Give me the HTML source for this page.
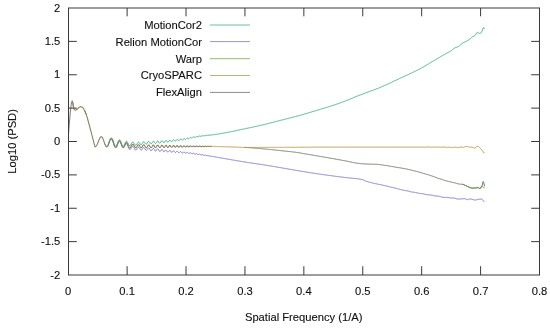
<!DOCTYPE html>
<html><head><meta charset="utf-8"><style>
html,body{margin:0;padding:0;background:#fff;}
svg{display:block;}
text{font-family:"Liberation Sans",Arial,sans-serif;font-size:11.2px;fill:#111;stroke:#111;stroke-width:0.12px;}
</style></head><body>
<svg width="550" height="328" viewBox="0 0 550 328">
<rect width="550" height="328" fill="#fff"/>
<g fill="none" stroke-width="1" stroke-linejoin="round" opacity="0.92">
<path d="M108.00,145.51 L108.25,144.95 L108.50,144.32 L108.75,143.64 L109.00,142.93 L109.25,142.21 L109.50,141.51 L109.75,140.86 L110.00,140.26 L110.25,139.75 L110.50,139.32 L110.75,139.01 L111.00,138.82 L111.25,138.75 L111.50,138.82 L111.75,139.02 L112.00,139.34 L112.25,139.78 L112.50,140.32 L112.75,140.96 L113.00,141.66 L113.25,142.41 L113.50,143.19 L113.75,143.96 L114.00,144.72 L114.25,145.42 L114.50,146.05 L114.75,146.59 L115.00,147.02 L115.25,147.33 L115.50,147.50 L115.75,147.54 L116.00,147.43 L116.25,147.20 L116.50,146.85 L116.75,146.38 L117.00,145.84 L117.25,145.22 L117.50,144.57 L117.75,143.91 L118.00,143.27 L118.25,142.67 L118.50,142.14 L118.75,141.71 L119.00,141.39 L119.25,141.20 L119.50,141.14 L119.75,141.23 L120.00,141.45 L120.25,141.80 L120.50,142.26 L120.75,142.81 L121.00,143.43 L121.25,144.09 L121.50,144.76 L121.75,145.42 L122.00,146.02 L122.25,146.55 L122.50,147.00 L122.75,147.33 L123.00,147.54 L123.25,147.62 L123.50,147.56 L123.75,147.37 L124.00,147.06 L124.25,146.66 L124.50,146.18 L124.75,145.66 L125.00,145.14 L125.25,144.66 L125.50,144.25 L125.75,143.93 L126.00,143.72 L126.25,143.64 L126.50,143.71 L126.75,143.91 L127.00,144.24 L127.25,144.69 L127.50,145.24 L127.75,145.85 L128.00,146.51 L128.25,147.16 L128.50,147.79 L128.75,148.37 L129.00,148.85 L129.25,149.22 L129.50,149.47 L129.75,149.57 L130.00,149.54 L130.25,149.39 L130.50,149.12 L130.75,148.78 L131.00,148.37 L131.25,147.94 L131.50,147.51 L131.75,147.11 L132.00,146.77 L132.25,146.52 L132.50,146.37 L132.75,146.35 L133.00,146.44 L133.25,146.65 L133.50,146.96 L133.75,147.36 L134.00,147.81 L134.25,148.29 L134.50,148.77 L134.75,149.20 L135.00,149.57 L135.25,149.84 L135.50,150.01 L135.75,150.05 L136.00,149.98 L136.25,149.79 L136.50,149.51 L136.75,149.16 L137.00,148.77 L137.25,148.37 L137.50,147.98 L137.75,147.65 L138.00,147.39 L138.25,147.23 L138.50,147.20 L138.75,147.28 L139.00,147.47 L139.25,147.77 L139.50,148.14 L139.75,148.57 L140.00,149.00 L140.25,149.42 L140.50,149.77 L140.75,150.04 L141.00,150.20 L141.25,150.23 L141.50,150.14 L141.75,149.93 L142.00,149.62 L142.25,149.25 L142.50,148.83 L142.75,148.43 L143.00,148.06 L143.25,147.77 L143.50,147.59 L143.75,147.53 L144.00,147.61 L144.25,147.81 L144.50,148.12 L144.75,148.51 L145.00,148.95 L145.25,149.39 L145.50,149.80 L145.75,150.13 L146.00,150.35 L146.25,150.44 L146.50,150.39 L146.75,150.22 L147.00,149.93 L147.25,149.57 L147.50,149.16 L147.75,148.75 L148.00,148.39 L148.25,148.12 L148.50,147.97 L148.75,147.95 L149.00,148.08 L149.25,148.33 L149.50,148.69 L149.75,149.12 L150.00,149.57 L150.25,150.00 L150.50,150.36 L150.75,150.61 L151.00,150.73 L151.25,150.70 L151.50,150.54 L151.75,150.25 L152.00,149.88 L152.25,149.47 L152.50,149.07 L152.75,148.73 L153.00,148.50 L153.25,148.40 L153.50,148.45 L153.75,148.64 L154.00,148.96 L154.25,149.37 L154.50,149.82 L154.75,150.27 L155.00,150.65 L155.25,150.93 L155.50,151.06 L155.75,151.05 L156.00,150.89 L156.25,150.60 L156.50,150.23 L156.75,149.82 L157.00,149.43 L157.25,149.12 L157.50,148.93 L157.75,148.89 L158.00,149.00 L158.25,149.26 L158.50,149.64 L158.75,150.09 L159.00,150.55 L159.25,150.96 L159.50,151.28 L159.75,151.46 L160.00,151.47 L160.25,151.34 L160.50,151.06 L160.75,150.69 L161.00,150.29 L161.25,149.91 L161.50,149.61 L161.75,149.45 L162.00,149.44 L162.25,149.59 L162.50,149.89 L162.75,150.30 L163.00,150.75 L163.25,151.20 L163.50,151.57 L163.75,151.82 L164.00,151.90 L164.25,151.82 L164.50,151.59 L164.75,151.25 L165.00,150.84 L165.25,150.45 L165.50,150.14 L165.75,149.96 L166.00,149.94 L166.25,150.08 L166.50,150.37 L166.75,150.76 L167.00,151.20 L167.25,151.62 L167.50,151.95 L167.75,152.14 L168.00,152.18 L168.25,152.05 L168.50,151.79 L168.75,151.44 L169.00,151.06 L169.25,150.72 L169.50,150.48 L169.75,150.39 L170.00,150.46 L170.25,150.67 L170.50,151.01 L170.75,151.41 L171.00,151.80 L171.25,152.13 L171.50,152.34 L171.75,152.39 L172.00,152.29 L172.25,152.06 L172.50,151.73 L172.75,151.38 L173.00,151.07 L173.25,150.86 L173.50,150.79 L173.75,150.87 L174.00,151.09 L174.25,151.42 L174.50,151.80 L174.75,152.15 L175.00,152.42 L175.25,152.57 L175.50,152.56 L175.75,152.41 L176.00,152.15 L176.25,151.84 L176.50,151.52 L176.75,151.28 L177.00,151.16 L177.25,151.19 L177.50,151.36 L177.75,151.64 L178.00,151.98 L178.25,152.32 L178.50,152.59 L178.75,152.75 L179.00,152.77 L179.25,152.65 L179.50,152.41 L179.75,152.12 L180.00,151.83 L180.25,151.62 L180.50,151.51 L180.75,151.55 L181.00,151.73 L181.25,152.00 L181.50,152.33 L181.75,152.64 L182.00,152.87 L182.25,152.99 L182.50,152.97 L182.75,152.82 L183.00,152.58 L183.25,152.30 L183.50,152.06 L183.75,151.91 L184.00,151.88 L184.25,151.99 L184.50,152.22 L184.75,152.51 L185.00,152.82 L185.25,153.07 L185.50,153.22 L185.75,153.24 L186.00,153.13 L186.25,152.93 L186.50,152.69 L186.75,152.47 L187.00,152.32 L187.25,152.29 L187.50,152.39 L187.75,152.59 L188.00,152.86 L188.25,153.13 L188.50,153.36 L188.75,153.50 L189.00,153.51 L189.25,153.42 L189.50,153.24 L189.75,153.03 L190.00,152.85 L190.25,152.75 L190.50,152.75 L190.75,152.87 L191.00,153.07 L191.25,153.32 L191.50,153.57 L191.75,153.75 L192.00,153.83 L192.25,153.81 L192.50,153.70 L192.75,153.52 L193.00,153.35 L193.25,153.23 L193.50,153.19 L193.75,153.26 L194.00,153.42 L194.25,153.64 L194.50,153.87 L194.75,154.06 L195.00,154.17 L195.25,154.18 L195.50,154.10 L195.75,153.96 L196.00,153.81 L196.25,153.70 L196.50,153.66 L196.75,153.71 L197.00,153.85 L197.25,154.05 L197.50,154.26 L197.75,154.44 L198.00,154.54 L198.25,154.56 L198.50,154.49 L198.75,154.37 L199.00,154.24 L199.25,154.15 L199.50,154.13 L199.75,154.19 L200.00,154.34 L200.25,154.52 L200.50,154.71 L200.75,154.86 L201.00,154.93 L201.25,154.93 L201.50,154.86 L201.75,154.75 L202.00,154.66 L202.25,154.61 L202.50,154.63 L202.75,154.72 L203.00,154.86 L203.25,155.03 L203.50,155.18 L203.75,155.28 L204.00,155.31 L204.25,155.28 L204.50,155.21 L204.75,155.13 L205.00,155.08 L205.25,155.08 L205.50,155.15 L205.75,155.26 L206.00,155.41 L206.25,155.54 L206.50,155.65 L206.75,155.69 L207.00,155.69 L207.25,155.64 L207.50,155.58 L207.75,155.54 L208.00,155.54 L208.25,155.60 L208.50,155.70 L208.75,155.83 L209.00,155.95 L209.25,156.05 L209.50,156.10 L209.75,156.10 L210.00,156.07 L210.25,156.03 L210.50,156.00 L210.75,156.02 L211.00,156.08 L211.25,156.17 L211.50,156.29 L211.75,156.40 L212.00,156.48 L212.25,156.52 L212.50,156.53 L212.75,156.50 L213.00,156.48 L213.25,156.48 L213.50,156.51 L213.75,156.58 L214.00,156.67 L214.25,156.78 L214.50,156.87 L214.75,156.93 L215.00,156.96 L215.25,156.96 L215.50,156.95 L215.75,156.94 L216.00,156.96 L216.25,157.01 L216.50,157.09 L216.75,157.18 L217.00,157.28 L217.25,157.36 L217.50,157.40 L217.75,157.42 L218.00,157.41 L218.25,157.40 L218.50,157.41 L218.75,157.45 L219.00,157.52 L219.25,157.61 L219.50,157.71 L219.75,157.79 L220.00,157.84 L220.25,157.86 L220.50,157.86 L220.75,157.85 L221.00,157.86 L221.25,157.90 L221.50,157.96 L221.75,158.05 L222.00,158.14 L222.25,158.22 L222.50,158.27 L222.75,158.30 L223.00,158.30 L223.25,158.30 L223.50,158.31 L223.75,158.34 L224.00,158.40 L224.25,158.49 L224.50,158.57 L224.75,158.65 L225.00,158.70 L225.25,158.72 L225.50,158.72 L225.75,158.72 L226.00,158.74 L226.25,158.78 L226.50,158.84 L226.75,158.92 L227.00,159.01 L227.25,159.07 L227.50,159.12 L227.75,159.13 L228.00,159.14 L228.25,159.15 L228.50,159.17 L228.75,159.22 L229.00,159.29 L229.25,159.37 L229.50,159.44 L229.75,159.50 L230.00,159.53 L230.25,159.55 L230.50,159.55 L230.75,159.57 L231.00,159.60 L231.25,159.66 L231.50,159.74 L231.75,159.82 L232.00,159.88 L232.25,159.93 L232.50,159.95 L232.75,159.96 L233.00,159.97 L233.25,160.00 L233.50,160.05 L233.75,160.12 L234.00,160.19 L234.25,160.26 L234.50,160.32 L234.75,160.35 L235.00,160.36 L235.25,160.37 L235.50,160.40 L235.75,160.44 L236.00,160.50 L236.25,160.58 L236.50,160.65 L236.75,160.70 L237.00,160.74 L237.25,160.75 L237.50,160.77 L237.75,160.79 L238.00,160.83 L238.25,160.89 L238.50,160.96 L238.75,161.03 L239.00,161.08 L239.25,161.12 L239.50,161.14 L239.75,161.15 L240.00,161.18 L240.25,161.21 L240.50,161.27 L240.75,161.34 L241.00,161.41 L241.25,161.46 L241.50,161.50 L241.75,161.52 L242.00,161.53 L242.25,161.55 L242.50,161.59 L242.75,161.65 L243.00,161.72 L243.25,161.78 L243.50,161.83 L243.75,161.87 L244.00,161.88 L244.25,161.90 L244.50,161.92 L244.75,161.96 L245.00,162.02 L245.25,162.09 L245.50,162.15 L245.75,162.20 L246.00,162.22 L246.25,162.24 L246.50,162.25 L246.75,162.28 L247.00,162.33 L247.25,162.39 L247.50,162.46 L247.75,162.51 L248.00,162.55 L248.25,162.57 L248.50,162.58 L248.75,162.59 L249.00,162.63 L249.25,162.68 L249.50,162.75 L249.75,162.81 L250.00,162.86 L250.25,162.88 L250.50,162.89 L250.75,162.90 L251.00,162.93 L251.25,162.97 L251.50,163.04 L251.75,163.10 L252.00,163.15 L252.25,163.19 L252.50,163.20 L252.75,163.21 L253.00,163.23 L253.25,163.26 L253.50,163.32 L253.75,163.39 L254.00,163.44 L254.25,163.48 L254.50,163.50 L254.75,163.51 L255.00,163.52 L255.25,163.55 L255.50,163.61 L255.75,163.67 L256.00,163.73 L256.25,163.77 L256.50,163.80 L256.75,163.81 L257.00,163.82 L257.25,163.84 L257.50,163.89 L257.75,163.96 L258.00,164.02 L258.25,164.06 L258.50,164.09 L258.75,164.10 L259.00,164.11 L259.25,164.14 L259.50,164.18 L259.75,164.25 L260.00,164.31 L260.25,164.36 L260.50,164.39 L260.75,164.40 L261.00,164.41 L261.25,164.43 L261.50,164.48 L261.75,164.54 L262.00,164.61 L262.25,164.66 L262.50,164.68 L262.75,164.70 L263.00,164.71 L263.25,164.73 L263.50,164.78 L263.75,164.85 L264.00,164.91 L264.25,164.96 L264.50,164.99 L264.75,165.00 L265.00,165.01 L265.25,165.04 L265.50,165.10 L265.75,165.17 L266.00,165.23 L266.25,165.28 L266.50,165.30 L266.75,165.31 L267.00,165.33 L267.25,165.37 L267.50,165.43 L267.75,165.49 L268.00,165.56 L268.25,165.60 L268.50,165.62 L268.75,165.63 L269.00,165.65 L269.25,165.70 L269.50,165.76 L269.75,165.83 L270.00,165.89 L270.25,165.92 L270.50,165.94 L270.75,165.95 L271.00,165.98 L271.25,166.04 L271.50,166.11 L271.75,166.18 L272.00,166.22 L272.25,166.25 L272.50,166.26 L272.75,166.28 L273.00,166.33 L273.25,166.39 L273.50,166.46 L273.75,166.52 L274.00,166.56 L274.25,166.58 L274.50,166.59 L274.75,166.62 L275.00,166.68 L275.25,166.75 L275.50,166.82 L275.75,166.86 L276.00,166.89 L276.25,166.91 L276.50,166.93 L276.75,166.97 L277.00,167.04 L277.25,167.11 L277.50,167.17 L277.75,167.20 L278.00,167.22 L278.25,167.24 L278.50,167.27 L278.75,167.33 L279.00,167.40 L279.25,167.47 L279.50,167.51 L279.75,167.53 L280.00,167.55 L280.25,167.58 L280.50,167.63 L280.75,167.70 L281.00,167.77 L281.25,167.82 L281.50,167.84 L281.75,167.86 L282.00,167.88 L282.25,167.93 L282.50,168.00 L282.75,168.07 L283.00,168.12 L283.25,168.15 L283.50,168.16 L283.75,168.18 L284.00,168.23 L284.25,168.29 L284.50,168.36 L284.75,168.42 L285.00,168.45 L285.25,168.47 L285.50,168.49 L285.75,168.53 L286.00,168.59 L286.25,168.66 L286.50,168.72 L286.75,168.75 L287.00,168.77 L287.25,168.79 L287.50,168.82 L287.75,168.89 L288.00,168.96 L288.25,169.02 L288.50,169.05 L288.75,169.07 L289.00,169.09 L289.25,169.13 L289.50,169.19 L289.75,169.26 L290.00,169.32 L290.25,169.35 L290.50,169.37 L290.75,169.39 L291.00,169.43 L291.25,169.49 L291.50,169.57 L291.75,169.62 L292.00,169.66 L292.25,169.67 L292.50,169.69 L292.75,169.73 L293.00,169.80 L293.25,169.87 L293.50,169.93 L293.75,169.96 L294.00,169.97 L294.25,169.99 L294.50,170.04 L294.75,170.11 L295.00,170.18 L295.25,170.23 L295.50,170.25 L295.75,170.27 L296.00,170.29 L296.25,170.35 L296.50,170.42 L296.75,170.48 L297.00,170.53 L297.25,170.55 L297.50,170.56 L297.75,170.60 L298.00,170.65 L298.25,170.73 L298.50,170.79 L298.75,170.82 L299.00,170.84 L299.25,170.86 L299.50,170.90 L299.75,170.96 L300.00,171.03 L300.25,171.09 L300.50,171.11 L300.75,171.12 L301.00,171.15 L301.25,171.20 L301.50,171.27 L301.75,171.33 L302.00,171.38 L302.25,171.39 L302.50,171.41 L302.75,171.44 L303.00,171.50 L303.25,171.57 L303.50,171.63 L303.75,171.66 L304.00,171.67 L304.25,171.69 L304.50,171.73 L304.75,171.80 L305.00,171.87 L305.25,171.91 L305.50,171.93 L305.75,171.94 L306.00,171.97 L306.25,172.03 L306.50,172.10 L306.75,172.15 L307.00,172.18 L307.25,172.19 L307.50,172.21 L307.75,172.25 L308.00,172.32 L308.25,172.38 L308.50,172.42 L308.75,172.44 L309.00,172.45 L309.25,172.48 L309.50,172.54 L309.75,172.61 L310.00,172.66 L310.25,172.68 L310.50,172.69 L310.75,172.72 L311.00,172.77 L311.25,172.83 L311.50,172.89 L311.75,172.93 L312.00,172.94 L312.25,172.95 L312.50,172.99 L312.75,173.06 L313.00,173.12 L313.25,173.16 L313.50,173.18 L313.75,173.19 L314.00,173.22 L314.25,173.28 L314.50,173.34 L314.75,173.39 L315.00,173.41 L315.25,173.42 L315.50,173.44 L315.75,173.50 L316.00,173.56 L316.25,173.62 L316.50,173.64 L316.75,173.65 L317.00,173.67 L317.25,173.72 L317.50,173.78 L317.75,173.84 L318.00,173.87 L318.25,173.88 L318.50,173.89 L318.75,173.94 L319.00,174.00 L319.25,174.06 L319.50,174.10 L319.75,174.11 L320.00,174.12 L320.25,174.15 L320.50,174.22 L320.75,174.28 L321.00,174.32 L321.25,174.33 L321.50,174.34 L321.75,174.37 L322.00,174.43 L322.25,174.49 L322.50,174.53 L322.75,174.55 L323.00,174.55 L323.25,174.58 L323.50,174.64 L323.75,174.71 L324.00,174.75 L324.25,174.76 L324.50,174.77 L324.75,174.80 L325.00,174.85 L325.25,174.92 L325.50,174.96 L325.75,174.97 L326.00,174.98 L326.25,175.01 L326.50,175.06 L326.75,175.13 L327.00,175.17 L327.25,175.18 L327.50,175.18 L327.75,175.21 L328.00,175.27 L328.25,175.33 L328.50,175.37 L328.75,175.38 L329.00,175.39 L329.25,175.42 L329.50,175.48 L329.75,175.54 L330.00,175.57 L330.25,175.58 L330.50,175.59 L330.75,175.62 L331.00,175.69 L331.25,175.74 L331.50,175.77 L331.75,175.78 L332.00,175.79 L332.25,175.83 L332.50,175.89 L332.75,175.94 L333.00,175.97 L333.25,175.97 L333.50,175.98 L333.75,176.03 L334.00,176.09 L334.25,176.14 L334.50,176.16 L334.75,176.16 L335.00,176.18 L335.25,176.23 L335.50,176.29 L335.75,176.33 L336.00,176.35 L336.25,176.35 L336.50,176.38 L336.75,176.43 L337.00,176.49 L337.25,176.52 L337.50,176.53 L337.75,176.54 L338.00,176.57 L338.25,176.63 L338.50,176.69 L338.75,176.71 L339.00,176.71 L339.25,176.73 L339.50,176.77 L339.75,176.83 L340.00,176.88 L340.25,176.89 L340.50,176.89 L340.75,176.92 L341.00,176.97 L341.25,177.03 L341.50,177.06 L341.75,177.07 L342.00,177.08 L342.25,177.11 L342.50,177.17 L342.75,177.22 L343.00,177.24 L343.25,177.25 L343.50,177.26 L343.75,177.31 L344.00,177.37 L344.25,177.41 L344.50,177.42 L344.75,177.42 L345.00,177.45 L345.25,177.51 L345.50,177.56 L345.75,177.59 L346.00,177.59 L346.25,177.60 L346.50,177.64 L346.75,177.70 L347.00,177.75 L347.25,177.76 L347.50,177.75 L347.75,177.77 L348.00,177.82 L348.25,177.88 L348.50,177.90 L348.75,177.89 L349.00,177.90 L349.25,177.93 L349.50,177.99 L349.75,178.02 L350.00,178.03 L350.25,178.02 L350.50,178.04 L350.75,178.09 L351.00,178.13 L351.25,178.15 L351.50,178.14 L351.75,178.15 L352.00,178.18 L352.25,178.24 L352.50,178.27 L352.75,178.27 L353.00,178.26 L353.25,178.29 L353.50,178.34 L353.75,178.38 L354.00,178.40 L354.25,178.39 L354.50,178.40 L354.75,178.44 L355.00,178.50 L355.25,178.53 L355.50,178.53 L355.75,178.53 L356.00,178.56 L356.25,178.62 L356.50,178.67 L356.75,178.68 L357.00,178.68 L357.25,178.70 L357.50,178.76 L357.75,178.82 L358.00,178.84 L358.25,178.85 L358.50,178.87 L358.75,178.92 L359.00,178.99 L359.25,179.03 L359.50,179.04 L359.75,179.06 L360.00,179.11 L360.25,179.18 L360.50,179.24 L360.75,179.26 L361.00,179.28 L361.25,179.33 L361.50,179.40 L361.75,179.48 L362.00,179.51 L362.25,179.54 L362.50,179.61 L362.75,179.72 L363.00,179.85 L363.25,179.95 L363.50,180.04 L363.75,180.14 L364.00,180.28 L364.25,180.44 L364.50,180.57 L364.75,180.67 L365.00,180.77 L365.25,180.89 L365.50,181.03 L365.75,181.14 L366.00,181.20 L366.25,181.26 L366.50,181.34 L366.75,181.45 L367.00,181.54 L367.25,181.60 L367.50,181.64 L367.75,181.72 L368.00,181.82 L368.25,181.91 L368.50,181.97 L368.75,182.01 L369.00,182.07 L369.25,182.17 L369.50,182.26 L369.75,182.31 L370.00,182.35 L370.25,182.40 L370.50,182.49 L370.75,182.58 L371.00,182.64 L371.25,182.67 L371.50,182.72 L371.75,182.80 L372.00,182.89 L372.25,182.95 L372.50,182.98 L372.75,183.02 L373.00,183.10 L373.25,183.18 L373.50,183.24 L373.75,183.26 L374.00,183.30 L374.25,183.38 L374.50,183.46 L374.75,183.52 L375.00,183.54 L375.25,183.58 L375.50,183.65 L375.75,183.73 L376.00,183.79 L376.25,183.81 L376.50,183.84 L376.75,183.91 L377.00,184.00 L377.25,184.05 L377.50,184.07 L377.75,184.10 L378.00,184.17 L378.25,184.26 L378.50,184.31 L378.75,184.33 L379.00,184.36 L379.25,184.43 L379.50,184.51 L379.75,184.56 L380.00,184.58 L380.25,184.62 L380.50,184.69 L380.75,184.77 L381.00,184.82 L381.25,184.84 L381.50,184.88 L381.75,184.95 L382.00,185.03 L382.25,185.08 L382.50,185.10 L382.75,185.14 L383.00,185.22 L383.25,185.30 L383.50,185.35 L383.75,185.37 L384.00,185.42 L384.25,185.50 L384.50,185.58 L384.75,185.62 L385.00,185.65 L385.25,185.70 L385.50,185.79 L385.75,185.87 L386.00,185.91 L386.25,185.94 L386.50,186.00 L386.75,186.09 L387.00,186.16 L387.25,186.20 L387.50,186.24 L387.75,186.31 L388.00,186.40 L388.25,186.47 L388.50,186.50 L388.75,186.54 L389.00,186.62 L389.25,186.71 L389.50,186.77 L389.75,186.80 L390.00,186.85 L390.25,186.93 L390.50,187.02 L390.75,187.07 L391.00,187.10 L391.25,187.16 L391.50,187.25 L391.75,187.33 L392.00,187.38 L392.25,187.41 L392.50,187.48 L392.75,187.57 L393.00,187.65 L393.25,187.68 L393.50,187.72 L393.75,187.80 L394.00,187.89 L394.25,187.95 L394.50,187.99 L394.75,188.04 L395.00,188.12 L395.25,188.21 L395.50,188.26 L395.75,188.29 L396.00,188.35 L396.25,188.44 L396.50,188.52 L396.75,188.56 L397.00,188.60 L397.25,188.67 L397.50,188.76 L397.75,188.82 L398.00,188.86 L398.25,188.90 L398.50,188.98 L398.75,189.07 L399.00,189.12 L399.25,189.15 L399.50,189.21 L399.75,189.30 L400.00,189.37 L400.25,189.41 L400.50,189.44 L400.75,189.51 L401.00,189.60 L401.25,189.66 L401.50,189.69 L401.75,189.73 L402.00,189.82 L402.25,189.90 L402.50,189.95 L402.75,189.98 L403.00,190.04 L403.25,190.14 L403.50,190.21 L403.75,190.24 L404.00,190.28 L404.25,190.35 L404.50,190.44 L404.75,190.48 L405.00,190.50 L405.25,190.54 L405.50,190.62 L405.75,190.68 L406.00,190.69 L406.25,190.71 L406.50,190.76 L406.75,190.83 L407.00,190.87 L407.25,190.88 L407.50,190.92 L407.75,190.99 L408.00,191.06 L408.25,191.10 L408.50,191.13 L408.75,191.21 L409.00,191.30 L409.25,191.37 L409.50,191.41 L409.75,191.47 L410.00,191.56 L410.25,191.65 L410.50,191.70 L410.75,191.73 L411.00,191.79 L411.25,191.87 L411.50,191.92 L411.75,191.93 L412.00,191.96 L412.25,192.02 L412.50,192.07 L412.75,192.08 L413.00,192.08 L413.25,192.12 L413.50,192.18 L413.75,192.21 L414.00,192.22 L414.25,192.24 L414.50,192.31 L414.75,192.37 L415.00,192.39 L415.25,192.41 L415.50,192.47 L415.75,192.56 L416.00,192.61 L416.25,192.63 L416.50,192.69 L416.75,192.78 L417.00,192.85 L417.25,192.89 L417.50,192.93 L417.75,193.01 L418.00,193.11 L418.25,193.16 L418.50,193.19 L418.75,193.25 L419.00,193.33 L419.25,193.39 L419.50,193.41 L419.75,193.43 L420.00,193.49 L420.25,193.54 L420.50,193.55 L420.75,193.54 L421.00,193.57 L421.25,193.61 L421.50,193.62 L421.75,193.60 L422.00,193.61 L422.25,193.66 L422.50,193.70 L422.75,193.70 L423.00,193.72 L423.25,193.78 L423.50,193.86 L423.75,193.91 L424.00,193.94 L424.25,194.03 L424.50,194.13 L424.75,194.21 L425.00,194.25 L425.25,194.33 L425.50,194.43 L425.75,194.50 L426.00,194.54 L426.25,194.57 L426.50,194.64 L426.75,194.69 L427.00,194.70 L427.25,194.70 L427.50,194.73 L427.75,194.77 L428.00,194.77 L428.25,194.75 L428.50,194.77 L428.75,194.81 L429.00,194.83 L429.25,194.83 L429.50,194.84 L429.75,194.89 L430.00,194.94 L430.25,194.96 L430.50,194.97 L430.75,195.03 L431.00,195.10 L431.25,195.12 L431.50,195.14 L431.75,195.19 L432.00,195.27 L432.25,195.31 L432.50,195.32 L432.75,195.37 L433.00,195.45 L433.25,195.51 L433.50,195.54 L433.75,195.58 L434.00,195.67 L434.25,195.74 L434.50,195.77 L434.75,195.81 L435.00,195.88 L435.25,195.95 L435.50,195.97 L435.75,195.98 L436.00,196.02 L436.25,196.07 L436.50,196.07 L436.75,196.05 L437.00,196.06 L437.25,196.10 L437.50,196.10 L437.75,196.07 L438.00,196.08 L438.25,196.13 L438.50,196.16 L438.75,196.17 L439.00,196.20 L439.25,196.29 L439.50,196.37 L439.75,196.41 L440.00,196.48 L440.25,196.59 L440.50,196.70 L440.75,196.76 L441.00,196.82 L441.25,196.92 L441.50,197.01 L441.75,197.05 L442.00,197.08 L442.25,197.15 L442.50,197.21 L442.75,197.22 L443.00,197.22 L443.25,197.25 L443.50,197.29 L443.75,197.29 L444.00,197.28 L444.25,197.30 L444.50,197.34 L444.75,197.35 L445.00,197.34 L445.25,197.36 L445.50,197.41 L445.75,197.43 L446.00,197.41 L446.25,197.43 L446.50,197.48 L446.75,197.50 L447.00,197.48 L447.25,197.49 L447.50,197.54 L447.75,197.56 L448.00,197.55 L448.25,197.57 L448.50,197.62 L448.75,197.66 L449.00,197.66 L449.25,197.69 L449.50,197.76 L449.75,197.81 L450.00,197.82 L450.25,197.85 L450.50,197.92 L450.75,197.97 L451.00,197.96 L451.25,197.97 L451.50,198.01 L451.75,198.03 L452.00,198.00 L452.25,197.99 L452.50,198.01 L452.75,198.02 L453.00,197.99 L453.25,197.98 L453.50,198.02 L453.75,198.05 L454.00,198.05 L454.25,198.07 L454.50,198.15 L454.75,198.23 L455.00,198.27 L455.25,198.34 L455.50,198.45 L455.75,198.55 L456.00,198.61 L456.25,198.69 L456.50,198.80 L456.75,198.88 L457.00,198.92 L457.25,198.96 L457.50,199.03 L457.75,199.07 L458.00,199.05 L458.25,199.05 L458.50,199.08 L458.75,199.07 L459.00,199.02 L459.25,198.99 L459.50,199.00 L459.75,198.98 L460.00,198.92 L460.25,198.90 L460.50,198.92 L460.75,198.90 L461.00,198.86 L461.25,198.85 L461.50,198.87 L461.75,198.86 L462.00,198.82 L462.25,198.81 L462.50,198.83 L462.75,198.80 L463.00,198.75 L463.25,198.74 L463.50,198.75 L463.75,198.73 L464.00,198.68 L464.25,198.69 L464.50,198.71 L464.75,198.69 L465.00,198.66 L465.25,198.71 L465.50,198.81 L465.75,198.89 L466.00,199.00 L466.25,199.16 L466.50,199.31 L466.75,199.42 L467.00,199.51 L467.25,199.61 L467.50,199.66 L467.75,199.61 L468.00,199.54 L468.25,199.47 L468.50,199.35 L468.75,199.19 L469.00,199.06 L469.25,198.99 L469.50,198.91 L469.75,198.84 L470.00,198.86 L470.25,198.91 L470.50,198.95 L470.75,198.97 L471.00,199.05 L471.25,199.16 L471.50,199.22 L471.75,199.27 L472.00,199.38 L472.25,199.48 L472.50,199.53 L472.75,199.58 L473.00,199.67 L473.25,199.74 L473.50,199.76 L473.75,199.80 L474.00,199.87 L474.25,199.91 L474.50,199.91 L474.75,199.95 L475.00,200.00 L475.25,200.02 L475.50,200.00 L475.75,200.00 L476.00,200.00 L476.25,199.94 L476.50,199.85 L476.75,199.81 L477.00,199.75 L477.25,199.65 L477.50,199.55 L477.75,199.50 L478.00,199.44 L478.25,199.35 L478.50,199.30 L478.75,199.30 L479.00,199.26 L479.25,199.20 L479.50,199.17 L479.75,199.16 L480.00,199.12 L480.25,199.07 L480.50,199.08 L480.75,199.10 L481.00,199.08 L481.25,199.09 L481.50,199.15 L481.75,199.23 L482.00,199.33 L482.25,199.52 L482.50,199.78 L482.75,200.04 L483.00,200.30 L483.25,200.62 L483.50,200.96 L483.75,201.25 L484.00,201.52 L484.25,201.82 L484.50,202.09" stroke="#7066c4"/>
<path d="M84.70,110.70 L86.30,114.60 L87.50,118.50 L91.30,132.60 L93.80,142.40 L95.00,146.85 L95.25,146.81 L95.50,146.70 L95.75,146.53 L96.00,146.29 L96.25,145.99 L96.50,145.63 L96.75,145.21 L97.00,144.74 L97.25,144.22 L97.50,143.67 L97.75,143.08 L98.00,142.47 L98.25,141.85 L98.50,141.22 L98.75,140.60 L99.00,139.99 L99.25,139.41 L99.50,138.86 L99.75,138.36 L100.00,137.91 L100.25,137.53 L100.50,137.21 L100.75,136.98 L101.00,136.83 L101.25,136.77 L101.50,136.81 L101.75,136.93 L102.00,137.15 L102.25,137.45 L102.50,137.85 L102.75,138.32 L103.00,138.86 L103.25,139.47 L103.50,140.13 L103.75,140.82 L104.00,141.54 L104.25,142.27 L104.50,142.99 L104.75,143.70 L105.00,144.36 L105.25,144.98 L105.50,145.53 L105.75,146.00 L106.00,146.38 L106.25,146.66 L106.50,146.83 L106.75,146.88 L107.00,146.83 L107.25,146.66 L107.50,146.38 L107.75,145.99 L108.00,145.51 L108.25,144.95 L108.50,144.32 L108.75,143.64 L109.00,142.93 L109.25,142.21 L109.50,141.51 L109.75,140.86 L110.00,140.26 L110.25,139.75 L110.50,139.32 L110.75,139.01 L111.00,138.82 L111.25,138.75 L111.50,138.82 L111.75,139.02 L112.00,139.34 L112.25,139.78 L112.50,140.32 L112.75,140.96 L113.00,141.66 L113.25,142.41 L113.50,143.19 L113.75,143.96 L114.00,144.72 L114.25,145.42 L114.50,146.05 L114.75,146.59 L115.00,147.02 L115.25,147.33 L115.50,147.50 L115.75,147.54 L116.00,147.43 L116.25,147.20 L116.50,146.85 L116.75,146.38 L117.00,145.84 L117.25,145.22 L117.50,144.57 L117.75,143.91 L118.00,143.27 L118.25,142.67 L118.50,142.15 L118.75,141.71 L119.00,141.40 L119.25,141.21 L119.50,141.15 L119.75,141.24 L120.00,141.46 L120.25,141.81 L120.50,142.27 L120.75,142.82 L121.00,143.44 L121.25,144.10 L121.50,144.77 L121.75,145.42 L122.00,146.02 L122.25,146.54 L122.50,146.97 L122.75,147.27 L123.00,147.45 L123.25,147.48 L123.50,147.38 L123.75,147.14 L124.00,146.78 L124.25,146.33 L124.50,145.80 L124.75,145.23 L125.00,144.66 L125.25,144.12 L125.50,143.65 L125.75,143.26 L126.00,142.99 L126.25,142.85 L126.50,142.84 L126.75,142.97 L127.00,143.23 L127.25,143.61 L127.50,144.09 L127.75,144.63 L128.00,145.22 L128.25,145.81 L128.50,146.38 L128.75,146.90 L129.00,147.33 L129.25,147.65 L129.50,147.85 L129.75,147.92 L130.00,147.86 L130.25,147.68 L130.50,147.38 L130.75,147.00 L131.00,146.56 L131.25,146.09 L131.50,145.62 L131.75,145.19 L132.00,144.81 L132.25,144.53 L132.50,144.35 L132.75,144.29 L133.00,144.35 L133.25,144.54 L133.50,144.82 L133.75,145.19 L134.00,145.62 L134.25,146.07 L134.50,146.52 L134.75,146.93 L135.00,147.28 L135.25,147.53 L135.50,147.68 L135.75,147.71 L136.00,147.62 L136.25,147.42 L136.50,147.12 L136.75,146.75 L137.00,146.35 L137.25,145.93 L137.50,145.53 L137.75,145.19 L138.00,144.92 L138.25,144.75 L138.50,144.70 L138.75,144.77 L139.00,144.96 L139.25,145.25 L139.50,145.61 L139.75,146.03 L140.00,146.46 L140.25,146.86 L140.50,147.21 L140.75,147.47 L141.00,147.62 L141.25,147.64 L141.50,147.54 L141.75,147.33 L142.00,147.01 L142.25,146.63 L142.50,146.21 L142.75,145.79 L143.00,145.42 L143.25,145.12 L143.50,144.93 L143.75,144.86 L144.00,144.93 L144.25,145.12 L144.50,145.42 L144.75,145.80 L145.00,146.22 L145.25,146.65 L145.50,147.04 L145.75,147.36 L146.00,147.57 L146.25,147.64 L146.50,147.59 L146.75,147.40 L147.00,147.09 L147.25,146.71 L147.50,146.29 L147.75,145.87 L148.00,145.50 L148.25,145.21 L148.50,145.04 L148.75,145.01 L149.00,145.12 L149.25,145.35 L149.50,145.70 L149.75,146.11 L150.00,146.54 L150.25,146.96 L150.50,147.30 L150.75,147.53 L151.00,147.63 L151.25,147.58 L151.50,147.40 L151.75,147.09 L152.00,146.70 L152.25,146.27 L152.50,145.86 L152.75,145.50 L153.00,145.24 L153.25,145.12 L153.50,145.15 L153.75,145.33 L154.00,145.63 L154.25,146.02 L154.50,146.45 L154.75,146.87 L155.00,147.23 L155.25,147.49 L155.50,147.60 L155.75,147.57 L156.00,147.38 L156.25,147.07 L156.50,146.67 L156.75,146.24 L157.00,145.83 L157.25,145.49 L157.50,145.27 L157.75,145.20 L158.00,145.29 L158.25,145.53 L158.50,145.88 L158.75,146.30 L159.00,146.73 L159.25,147.11 L159.50,147.40 L159.75,147.55 L160.00,147.54 L160.25,147.37 L160.50,147.07 L160.75,146.67 L161.00,146.24 L161.25,145.83 L161.50,145.50 L161.75,145.31 L162.00,145.27 L162.25,145.39 L162.50,145.66 L162.75,146.04 L163.00,146.47 L163.25,146.89 L163.50,147.23 L163.75,147.45 L164.00,147.51 L164.25,147.40 L164.50,147.14 L164.75,146.77 L165.00,146.34 L165.25,145.93 L165.50,145.59 L165.75,145.38 L166.00,145.34 L166.25,145.46 L166.50,145.72 L166.75,146.09 L167.00,146.51 L167.25,146.90 L167.50,147.21 L167.75,147.38 L168.00,147.39 L168.25,147.24 L168.50,146.96 L168.75,146.58 L169.00,146.19 L169.25,145.83 L169.50,145.57 L169.75,145.45 L170.00,145.50 L170.25,145.70 L170.50,146.01 L170.75,146.39 L171.00,146.76 L171.25,147.07 L171.50,147.26 L171.75,147.29 L172.00,147.17 L172.25,146.92 L172.50,146.57 L172.75,146.20 L173.00,145.87 L173.25,145.64 L173.50,145.55 L173.75,145.61 L174.00,145.82 L174.25,146.13 L174.50,146.48 L174.75,146.82 L175.00,147.07 L175.25,147.20 L175.50,147.17 L175.75,147.00 L176.00,146.72 L176.25,146.39 L176.50,146.06 L176.75,145.80 L177.00,145.65 L177.25,145.66 L177.50,145.81 L177.75,146.07 L178.00,146.39 L178.25,146.71 L178.50,146.97 L178.75,147.11 L179.00,147.10 L179.25,146.96 L179.50,146.70 L179.75,146.39 L180.00,146.09 L180.25,145.85 L180.50,145.72 L180.75,145.74 L181.00,145.89 L181.25,146.15 L181.50,146.45 L181.75,146.74 L182.00,146.96 L182.25,147.05 L182.50,147.00 L182.75,146.83 L183.00,146.57 L183.25,146.27 L183.50,146.01 L183.75,145.83 L184.00,145.78 L184.25,145.87 L184.50,146.07 L184.75,146.34 L185.00,146.62 L185.25,146.85 L185.50,146.97 L185.75,146.96 L186.00,146.83 L186.25,146.61 L186.50,146.34 L186.75,146.09 L187.00,145.92 L187.25,145.86 L187.50,145.93 L187.75,146.10 L188.00,146.34 L188.25,146.59 L188.50,146.79 L188.75,146.89 L189.00,146.88 L189.25,146.75 L189.50,146.55 L189.75,146.31 L190.00,146.10 L190.25,145.96 L190.50,145.94 L190.75,146.02 L191.00,146.20 L191.25,146.42 L191.50,146.63 L191.75,146.78 L192.00,146.83 L192.25,146.78 L192.50,146.63 L192.75,146.43 L193.00,146.22 L193.25,146.07 L193.50,146.00 L193.75,146.03 L194.00,146.16 L194.25,146.35 L194.50,146.54 L194.75,146.70 L195.00,146.77 L195.25,146.75 L195.50,146.64 L195.75,146.46 L196.00,146.28 L196.25,146.13 L196.50,146.05 L196.75,146.07 L197.00,146.18 L197.25,146.34 L197.50,146.52 L197.75,146.66 L198.00,146.72 L198.25,146.70 L198.50,146.60 L198.75,146.44 L199.00,146.28 L199.25,146.15 L199.50,146.09 L199.75,146.12 L200.00,146.23 L200.25,146.38 L200.50,146.53 L200.75,146.64 L201.00,146.68 L201.25,146.64 L201.50,146.53 L201.75,146.39 L202.00,146.26 L202.25,146.17 L202.50,146.15 L202.75,146.21 L203.00,146.32 L203.25,146.44 L203.50,146.56 L203.75,146.62 L204.00,146.62 L204.25,146.55 L204.50,146.44 L204.75,146.32 L205.00,146.23 L205.25,146.20 L205.50,146.22 L205.75,146.30 L206.00,146.41 L206.25,146.51 L206.50,146.57 L206.75,146.58 L207.00,146.54 L207.25,146.45 L207.50,146.36 L207.75,146.28 L208.00,146.24 L208.25,146.26 L208.50,146.32 L208.75,146.41 L209.00,146.50 L209.25,146.55 L209.50,146.57 L209.75,146.53 L210.00,146.46 L210.25,146.38 L210.50,146.32 L210.75,146.30 L211.00,146.32 L211.25,146.38 L211.50,146.45 L211.75,146.52" stroke="#807852" stroke-width="1.1"/>
<path d="M72.80,102.50 L73.40,107.00 L74.20,109.40 L75.10,110.20 L76.80,109.60 L78.60,107.70 L80.80,106.60 L83.00,107.70 L84.70,110.70 L86.30,114.60" stroke="#8a7a48" stroke-width="1.1"/>
<path d="M68.50,134.00 L69.20,125.00 L70.20,113.00 L71.20,104.00 L72.10,100.80 L72.80,102.50 L73.40,107.00" stroke="#7c7a70" stroke-width="1.1"/>
<path d="M105.00,143.99 L105.25,144.59 L105.50,145.13 L105.75,145.59 L106.00,145.95 L106.25,146.22 L106.50,146.37 L106.75,146.42 L107.00,146.34 L107.25,146.16 L107.50,145.86 L107.75,145.46 L108.00,144.96 L108.25,144.38 L108.50,143.74 L108.75,143.04 L109.00,142.31 L109.25,141.57 L109.50,140.85 L109.75,140.17 L110.00,139.55 L110.25,139.00 L110.50,138.55 L110.75,138.20 L111.00,137.97 L111.25,137.87 L111.50,137.90 L111.75,138.06 L112.00,138.34 L112.25,138.74 L112.50,139.25 L112.75,139.85 L113.00,140.51 L113.25,141.23 L113.50,141.97 L113.75,142.72 L114.00,143.44 L114.25,144.11 L114.50,144.71 L114.75,145.23 L115.00,145.63 L115.25,145.91 L115.50,146.07 L115.75,146.08 L116.00,145.97 L116.25,145.72 L116.50,145.36 L116.75,144.89 L117.00,144.34 L117.25,143.73 L117.50,143.09 L117.75,142.44 L118.00,141.80 L118.25,141.22 L118.50,140.71 L118.75,140.29 L119.00,139.99 L119.25,139.81 L119.50,139.78 L119.75,139.89 L120.00,140.13 L120.25,140.51 L120.50,140.99 L120.75,141.57 L121.00,142.21 L121.25,142.89 L121.50,143.58 L121.75,144.25 L122.00,144.86 L122.25,145.40 L122.50,145.82 L122.75,146.13 L123.00,146.29 L123.25,146.32 L123.50,146.19 L123.75,145.94 L124.00,145.55 L124.25,145.07 L124.50,144.52 L124.75,143.91 L125.00,143.31 L125.25,142.73 L125.50,142.21 L125.75,141.78 L126.00,141.46 L126.25,141.27 L126.50,141.22 L126.75,141.30 L127.00,141.51 L127.25,141.84 L127.50,142.27 L127.75,142.77 L128.00,143.31 L128.25,143.86 L128.50,144.38 L128.75,144.85 L129.00,145.24 L129.25,145.53 L129.50,145.69 L129.75,145.73 L130.00,145.64 L130.25,145.43 L130.50,145.11 L130.75,144.72 L131.00,144.26 L131.25,143.78 L131.50,143.30 L131.75,142.86 L132.00,142.47" stroke="#4a8a6c"/>
<path d="M132.00,142.47 L132.25,142.18 L132.50,142.00 L132.75,141.93 L133.00,141.98 L133.25,142.16 L133.50,142.44 L133.75,142.80 L134.00,143.22 L134.25,143.67 L134.50,144.11 L134.75,144.52 L135.00,144.86 L135.25,145.11 L135.50,145.25 L135.75,145.27 L136.00,145.18 L136.25,144.97 L136.50,144.67 L136.75,144.30 L137.00,143.89 L137.25,143.47 L137.50,143.06 L137.75,142.70 L138.00,142.41 L138.25,142.22 L138.50,142.14 L138.75,142.18 L139.00,142.34 L139.25,142.59 L139.50,142.92 L139.75,143.30 L140.00,143.69 L140.25,144.06 L140.50,144.37 L140.75,144.59 L141.00,144.71 L141.25,144.70 L141.50,144.57 L141.75,144.32 L142.00,143.98 L142.25,143.57 L142.50,143.13 L142.75,142.69 L143.00,142.29 L143.25,141.97 L143.50,141.76 L143.75,141.67 L144.00,141.71 L144.25,141.88 L144.50,142.16 L144.75,142.52 L145.00,142.92 L145.25,143.33 L145.50,143.70 L145.75,144.00 L146.00,144.18 L146.25,144.24 L146.50,144.16 L146.75,143.96 L147.00,143.64 L147.25,143.23 L147.50,142.79 L147.75,142.35 L148.00,141.96 L148.25,141.66 L148.50,141.47 L148.75,141.42 L149.00,141.51 L149.25,141.73 L149.50,142.05 L149.75,142.45 L150.00,142.87 L150.25,143.26 L150.50,143.58 L150.75,143.80 L151.00,143.88 L151.25,143.82 L151.50,143.62 L151.75,143.29 L152.00,142.89 L152.25,142.44 L152.50,142.01 L152.75,141.63 L153.00,141.36 L153.25,141.22 L153.50,141.23 L153.75,141.39 L154.00,141.67 L154.25,142.04 L154.50,142.46 L154.75,142.87 L155.00,143.21 L155.25,143.45 L155.50,143.54 L155.75,143.49 L156.00,143.28 L156.25,142.95 L156.50,142.54 L156.75,142.09 L157.00,141.66 L157.25,141.30 L157.50,141.07 L157.75,140.98 L158.00,141.05 L158.25,141.27 L158.50,141.60 L158.75,142.00 L159.00,142.41 L159.25,142.77 L159.50,143.04 L159.75,143.17 L160.00,143.14 L160.25,142.95 L160.50,142.63 L160.75,142.21 L161.00,141.75 L161.25,141.32 L161.50,140.98 L161.75,140.76 L162.00,140.70 L162.25,140.80 L162.50,141.05 L162.75,141.40 L163.00,141.81 L163.25,142.21 L163.50,142.53 L163.75,142.72 L164.00,142.76 L164.25,142.63 L164.50,142.34 L164.75,141.95 L165.00,141.50 L165.25,141.06 L165.50,140.69 L165.75,140.46 L166.00,140.39 L166.25,140.48 L166.50,140.73 L166.75,141.07 L167.00,141.46 L167.25,141.83 L167.50,142.11 L167.75,142.26 L168.00,142.24 L168.25,142.07 L168.50,141.75 L168.75,141.35 L169.00,140.93 L169.25,140.54 L169.50,140.26 L169.75,140.12 L170.00,140.13 L170.25,140.30 L170.50,140.59 L170.75,140.94 L171.00,141.28 L171.25,141.56 L171.50,141.72 L171.75,141.73 L172.00,141.58 L172.25,141.30 L172.50,140.92 L172.75,140.53 L173.00,140.17 L173.25,139.91 L173.50,139.78 L173.75,139.82 L174.00,139.99 L174.25,140.27 L174.50,140.59 L174.75,140.90 L175.00,141.12 L175.25,141.21 L175.50,141.16 L175.75,140.96 L176.00,140.65 L176.25,140.28 L176.50,139.92 L176.75,139.63 L177.00,139.45 L177.25,139.43 L177.50,139.54 L177.75,139.77 L178.00,140.06 L178.25,140.35 L178.50,140.57 L178.75,140.67 L179.00,140.64 L179.25,140.46 L179.50,140.17 L179.75,139.83 L180.00,139.49 L180.25,139.21 L180.50,139.05 L180.75,139.04 L181.00,139.15 L181.25,139.37 L181.50,139.64 L181.75,139.89 L182.00,140.06 L182.25,140.11 L182.50,140.03 L182.75,139.81 L183.00,139.51 L183.25,139.17 L183.50,138.86 L183.75,138.64 L184.00,138.55 L184.25,138.59 L184.50,138.74 L184.75,138.97 L185.00,139.20 L185.25,139.38 L185.50,139.46 L185.75,139.41 L186.00,139.23 L186.25,138.95 L186.50,138.64 L186.75,138.34 L187.00,138.12 L187.25,138.01 L187.50,138.03 L187.75,138.15 L188.00,138.34 L188.25,138.54 L188.50,138.69 L188.75,138.75 L189.00,138.68 L189.25,138.51 L189.50,138.25 L189.75,137.96 L190.00,137.70 L190.25,137.52 L190.50,137.44 L190.75,137.48 L191.00,137.60 L191.25,137.77 L191.50,137.93 L191.75,138.03 L192.00,138.04 L192.25,137.93 L192.50,137.73 L192.75,137.48 L193.00,137.23 L193.25,137.02 L193.50,136.90 L193.75,136.89 L194.00,136.97 L194.25,137.11 L194.50,137.26 L194.75,137.37 L195.00,137.39 L195.25,137.33 L195.50,137.17 L195.75,136.95 L196.00,136.72 L196.25,136.52 L196.50,136.40 L196.75,136.38 L197.00,136.44 L197.25,136.56 L197.50,136.70 L197.75,136.80 L198.00,136.82 L198.25,136.76 L198.50,136.62 L198.75,136.43 L199.00,136.22 L199.25,136.06 L199.50,135.97 L199.75,135.96 L200.00,136.03 L200.25,136.15 L200.50,136.26 L200.75,136.34 L201.00,136.35 L201.25,136.27 L201.50,136.13 L201.75,135.96 L202.00,135.80 L202.25,135.68 L202.50,135.63 L202.75,135.66 L203.00,135.74 L203.25,135.84 L203.50,135.92 L203.75,135.96 L204.00,135.93 L204.25,135.83 L204.50,135.70 L204.75,135.55 L205.00,135.44 L205.25,135.38 L205.50,135.38 L205.75,135.43 L206.00,135.51 L206.25,135.58 L206.50,135.62 L206.75,135.61 L207.00,135.53 L207.25,135.42 L207.50,135.30 L207.75,135.20 L208.00,135.13 L208.25,135.12 L208.50,135.16 L208.75,135.22 L209.00,135.28 L209.25,135.31 L209.50,135.29 L209.75,135.23 L210.00,135.13 L210.25,135.02 L210.50,134.93 L210.75,134.88 L211.00,134.87 L211.25,134.89 L211.50,134.94 L211.75,134.98 L212.00,134.99 L212.25,134.96 L212.50,134.89 L212.75,134.80 L213.00,134.70 L213.25,134.63 L213.50,134.58 L213.75,134.58 L214.00,134.60 L214.25,134.63 L214.50,134.65 L214.75,134.64 L215.00,134.59 L215.25,134.51 L215.50,134.42 L215.75,134.33 L216.00,134.27 L216.25,134.23 L216.50,134.23 L216.75,134.25 L217.00,134.27 L217.25,134.26 L217.50,134.22 L217.75,134.16 L218.00,134.07 L218.25,133.97 L218.50,133.90 L218.75,133.85 L219.00,133.84 L219.25,133.85 L219.50,133.86 L219.75,133.85 L220.00,133.82 L220.25,133.75 L220.50,133.67 L220.75,133.57 L221.00,133.50 L221.25,133.44 L221.50,133.42 L221.75,133.42 L222.00,133.42 L222.25,133.41 L222.50,133.38 L222.75,133.32 L223.00,133.23 L223.25,133.14 L223.50,133.06 L223.75,133.01 L224.00,132.98 L224.25,132.97 L224.50,132.97 L224.75,132.96 L225.00,132.92 L225.25,132.85 L225.50,132.77 L225.75,132.68 L226.00,132.60 L226.25,132.55 L226.50,132.53 L226.75,132.52 L227.00,132.51 L227.25,132.49 L227.50,132.44 L227.75,132.37 L228.00,132.29 L228.25,132.20 L228.50,132.13 L228.75,132.09 L229.00,132.07 L229.25,132.06 L229.50,132.05 L229.75,132.01 L230.00,131.96 L230.25,131.88 L230.50,131.79 L230.75,131.71 L231.00,131.65 L231.25,131.62 L231.50,131.60 L231.75,131.58 L232.00,131.56 L232.25,131.51 L232.50,131.43 L232.75,131.35 L233.00,131.26 L233.25,131.20 L233.50,131.15 L233.75,131.12 L234.00,131.10 L234.25,131.07 L234.50,131.03 L234.75,130.96 L235.00,130.88 L235.25,130.80 L235.50,130.72 L235.75,130.67 L236.00,130.63 L236.25,130.61 L236.50,130.58 L236.75,130.54 L237.00,130.48 L237.25,130.40 L237.50,130.32 L237.75,130.24 L238.00,130.19 L238.25,130.15 L238.50,130.12 L238.75,130.10 L239.00,130.05 L239.25,129.99 L239.50,129.92 L239.75,129.84 L240.00,129.76 L240.25,129.71 L240.50,129.67 L240.75,129.64 L241.00,129.62 L241.25,129.58 L241.50,129.52 L241.75,129.44 L242.00,129.36 L242.25,129.29 L242.50,129.24 L242.75,129.20 L243.00,129.17 L243.25,129.15 L243.50,129.10 L243.75,129.04 L244.00,128.96 L244.25,128.88 L244.50,128.82 L244.75,128.77 L245.00,128.73 L245.25,128.71 L245.50,128.68 L245.75,128.63 L246.00,128.56 L246.25,128.48 L246.50,128.41 L246.75,128.34 L247.00,128.30 L247.25,128.27 L247.50,128.25 L247.75,128.21 L248.00,128.15 L248.25,128.08 L248.50,128.00 L248.75,127.93 L249.00,127.87 L249.25,127.84 L249.50,127.81 L249.75,127.78 L250.00,127.74 L250.25,127.67 L250.50,127.59 L250.75,127.51 L251.00,127.45 L251.25,127.40 L251.50,127.37 L251.75,127.35 L252.00,127.31 L252.25,127.25 L252.50,127.18 L252.75,127.09 L253.00,127.02 L253.25,126.97 L253.50,126.94 L253.75,126.91 L254.00,126.88 L254.25,126.82 L254.50,126.75 L254.75,126.67 L255.00,126.59 L255.25,126.53 L255.50,126.49 L255.75,126.46 L256.00,126.43 L256.25,126.39 L256.50,126.32 L256.75,126.23 L257.00,126.15 L257.25,126.09 L257.50,126.04 L257.75,126.01 L258.00,125.98 L258.25,125.94 L258.50,125.87 L258.75,125.79 L259.00,125.70 L259.25,125.64 L259.50,125.59 L259.75,125.56 L260.00,125.53 L260.25,125.48 L260.50,125.41 L260.75,125.33 L261.00,125.24 L261.25,125.17 L261.50,125.12 L261.75,125.09 L262.00,125.06 L262.25,125.01 L262.50,124.94 L262.75,124.85 L263.00,124.77 L263.25,124.70 L263.50,124.65 L263.75,124.61 L264.00,124.58 L264.25,124.53 L264.50,124.45 L264.75,124.37 L265.00,124.28 L265.25,124.21 L265.50,124.16 L265.75,124.13 L266.00,124.09 L266.25,124.04 L266.50,123.96 L266.75,123.87 L267.00,123.78 L267.25,123.72 L267.50,123.67 L267.75,123.64 L268.00,123.60 L268.25,123.53 L268.50,123.45 L268.75,123.36 L269.00,123.28 L269.25,123.22 L269.50,123.18 L269.75,123.14 L270.00,123.09 L270.25,123.02 L270.50,122.93 L270.75,122.84 L271.00,122.77 L271.25,122.72 L271.50,122.68 L271.75,122.64 L272.00,122.59 L272.25,122.50 L272.50,122.41 L272.75,122.33 L273.00,122.26 L273.25,122.22 L273.50,122.18 L273.75,122.14 L274.00,122.07 L274.25,121.98 L274.50,121.89 L274.75,121.81 L275.00,121.76 L275.25,121.72 L275.50,121.68 L275.75,121.62 L276.00,121.54 L276.25,121.45 L276.50,121.36 L276.75,121.30 L277.00,121.26 L277.25,121.22 L277.50,121.17 L277.75,121.10 L278.00,121.01 L278.25,120.92 L278.50,120.85 L278.75,120.80 L279.00,120.77 L279.25,120.72 L279.50,120.66 L279.75,120.57 L280.00,120.48 L280.25,120.40 L280.50,120.35 L280.75,120.31 L281.00,120.27 L281.25,120.22 L281.50,120.13 L281.75,120.04 L282.00,119.96 L282.25,119.90 L282.50,119.86 L282.75,119.82 L283.00,119.77 L283.25,119.69 L283.50,119.60 L283.75,119.52 L284.00,119.45 L284.25,119.41 L284.50,119.38 L284.75,119.33 L285.00,119.25 L285.25,119.16 L285.50,119.07 L285.75,119.01 L286.00,118.96 L286.25,118.93 L286.50,118.88 L286.75,118.81 L287.00,118.72 L287.25,118.63 L287.50,118.56 L287.75,118.52 L288.00,118.48 L288.25,118.44 L288.50,118.36 L288.75,118.27 L289.00,118.18 L289.25,118.11 L289.50,118.07 L289.75,118.03 L290.00,117.99 L290.25,117.91 L290.50,117.82 L290.75,117.73 L291.00,117.66 L291.25,117.62 L291.50,117.59 L291.75,117.54 L292.00,117.46 L292.25,117.37 L292.50,117.28 L292.75,117.21 L293.00,117.17 L293.25,117.13 L293.50,117.08 L293.75,117.00 L294.00,116.90 L294.25,116.82 L294.50,116.76 L294.75,116.72 L295.00,116.68 L295.25,116.62 L295.50,116.53 L295.75,116.44 L296.00,116.35 L296.25,116.30 L296.50,116.26 L296.75,116.21 L297.00,116.15 L297.25,116.06 L297.50,115.96 L297.75,115.88 L298.00,115.83 L298.25,115.79 L298.50,115.74 L298.75,115.67 L299.00,115.57 L299.25,115.48 L299.50,115.41 L299.75,115.36 L300.00,115.32 L300.25,115.26 L300.50,115.18 L300.75,115.08 L301.00,114.99 L301.25,114.93 L301.50,114.89 L301.75,114.84 L302.00,114.77 L302.25,114.68 L302.50,114.58 L302.75,114.50 L303.00,114.45 L303.25,114.41 L303.50,114.35 L303.75,114.27 L304.00,114.17 L304.25,114.07 L304.50,114.01 L304.75,113.96 L305.00,113.91 L305.25,113.85 L305.50,113.75 L305.75,113.65 L306.00,113.57 L306.25,113.51 L306.50,113.47 L306.75,113.41 L307.00,113.33 L307.25,113.23 L307.50,113.13 L307.75,113.07 L308.00,113.02 L308.25,112.97 L308.50,112.90 L308.75,112.80 L309.00,112.70 L309.25,112.62 L309.50,112.56 L309.75,112.52 L310.00,112.46 L310.25,112.37 L310.50,112.26 L310.75,112.17 L311.00,112.11 L311.25,112.06 L311.50,112.01 L311.75,111.93 L312.00,111.83 L312.25,111.73 L312.50,111.65 L312.75,111.61 L313.00,111.56 L313.25,111.48 L313.50,111.38 L313.75,111.28 L314.00,111.20 L314.25,111.14 L314.50,111.10 L314.75,111.03 L315.00,110.94 L315.25,110.83 L315.50,110.74 L315.75,110.68 L316.00,110.64 L316.25,110.58 L316.50,110.49 L316.75,110.38 L317.00,110.29 L317.25,110.22 L317.50,110.17 L317.75,110.12 L318.00,110.04 L318.25,109.93 L318.50,109.83 L318.75,109.76 L319.00,109.71 L319.25,109.66 L319.50,109.58 L319.75,109.48 L320.00,109.37 L320.25,109.30 L320.50,109.25 L320.75,109.20 L321.00,109.12 L321.25,109.02 L321.50,108.92 L321.75,108.84 L322.00,108.78 L322.25,108.73 L322.50,108.66 L322.75,108.56 L323.00,108.46 L323.25,108.38 L323.50,108.32 L323.75,108.28 L324.00,108.20 L324.25,108.10 L324.50,108.00 L324.75,107.92 L325.00,107.86 L325.25,107.82 L325.50,107.74 L325.75,107.65 L326.00,107.54 L326.25,107.46 L326.50,107.40 L326.75,107.36 L327.00,107.28 L327.25,107.18 L327.50,107.08 L327.75,107.00 L328.00,106.94 L328.25,106.89 L328.50,106.82 L328.75,106.71 L329.00,106.61 L329.25,106.53 L329.50,106.48 L329.75,106.43 L330.00,106.35 L330.25,106.24 L330.50,106.14 L330.75,106.06 L331.00,106.01 L331.25,105.95 L331.50,105.87 L331.75,105.76 L332.00,105.66 L332.25,105.59 L332.50,105.53 L332.75,105.47 L333.00,105.38 L333.25,105.27 L333.50,105.17 L333.75,105.11 L334.00,105.05 L334.25,104.99 L334.50,104.89 L334.75,104.78 L335.00,104.68 L335.25,104.62 L335.50,104.57 L335.75,104.49 L336.00,104.39 L336.25,104.27 L336.50,104.18 L336.75,104.12 L337.00,104.07 L337.25,103.98 L337.50,103.87 L337.75,103.76 L338.00,103.68 L338.25,103.62 L338.50,103.55 L338.75,103.46 L339.00,103.34 L339.25,103.24 L339.50,103.16 L339.75,103.10 L340.00,103.03 L340.25,102.92 L340.50,102.80 L340.75,102.70 L341.00,102.63 L341.25,102.57 L341.50,102.48 L341.75,102.36 L342.00,102.24 L342.25,102.15 L342.50,102.09 L342.75,102.01 L343.00,101.91 L343.25,101.78 L343.50,101.67 L343.75,101.59 L344.00,101.52 L344.25,101.44 L344.50,101.32 L344.75,101.19 L345.00,101.09 L345.25,101.01 L345.50,100.94 L345.75,100.84 L346.00,100.71 L346.25,100.59 L346.50,100.50 L346.75,100.43 L347.00,100.34 L347.25,100.22 L347.50,100.09 L347.75,99.98 L348.00,99.90 L348.25,99.83 L348.50,99.72 L348.75,99.59 L349.00,99.46 L349.25,99.37 L349.50,99.30 L349.75,99.21 L350.00,99.09 L350.25,98.95 L350.50,98.85 L350.75,98.77 L351.00,98.69 L351.25,98.58 L351.50,98.45 L351.75,98.32 L352.00,98.23 L352.25,98.16 L352.50,98.07 L352.75,97.94 L353.00,97.81 L353.25,97.71 L353.50,97.63 L353.75,97.55 L354.00,97.43 L354.25,97.30 L354.50,97.18 L354.75,97.10 L355.00,97.03 L355.25,96.93 L355.50,96.80 L355.75,96.67 L356.00,96.58 L356.25,96.51 L356.50,96.42 L356.75,96.30 L357.00,96.17 L357.25,96.06 L357.50,95.99 L357.75,95.91 L358.00,95.81 L358.25,95.68 L358.50,95.56 L358.75,95.48 L359.00,95.41 L359.25,95.32 L359.50,95.19 L359.75,95.07 L360.00,94.98 L360.25,94.92 L360.50,94.83 L360.75,94.72 L361.00,94.59 L361.25,94.50 L361.50,94.43 L361.75,94.36 L362.00,94.25 L362.25,94.13 L362.50,94.02 L362.75,93.95 L363.00,93.89 L363.25,93.79 L363.50,93.67 L363.75,93.56 L364.00,93.48 L364.25,93.42 L364.50,93.33 L364.75,93.21 L365.00,93.10 L365.25,93.02 L365.50,92.96 L365.75,92.88 L366.00,92.77 L366.25,92.65 L366.50,92.56 L366.75,92.50 L367.00,92.43 L367.25,92.32 L367.50,92.20 L367.75,92.11 L368.00,92.04 L368.25,91.97 L368.50,91.87 L368.75,91.75 L369.00,91.65 L369.25,91.59 L369.50,91.52 L369.75,91.42 L370.00,91.30 L370.25,91.20 L370.50,91.13 L370.75,91.07 L371.00,90.97 L371.25,90.85 L371.50,90.74 L371.75,90.67 L372.00,90.61 L372.25,90.51 L372.50,90.39 L372.75,90.28 L373.00,90.21 L373.25,90.15 L373.50,90.05 L373.75,89.93 L374.00,89.82 L374.25,89.75 L374.50,89.68 L374.75,89.59 L375.00,89.46 L375.25,89.35 L375.50,89.27 L375.75,89.21 L376.00,89.11 L376.25,88.99 L376.50,88.87 L376.75,88.79 L377.00,88.72 L377.25,88.63 L377.50,88.50 L377.75,88.38 L378.00,88.30 L378.25,88.23 L378.50,88.13 L378.75,88.00 L379.00,87.88 L379.25,87.80 L379.50,87.73 L379.75,87.62 L380.00,87.49 L380.25,87.37 L380.50,87.29 L380.75,87.21 L381.00,87.10 L381.25,86.97 L381.50,86.85 L381.75,86.76 L382.00,86.68 L382.25,86.57 L382.50,86.43 L382.75,86.31 L383.00,86.22 L383.25,86.14 L383.50,86.02 L383.75,85.88 L384.00,85.76 L384.25,85.68 L384.50,85.59 L384.75,85.46 L385.00,85.32 L385.25,85.21 L385.50,85.12 L385.75,85.03 L386.00,84.89 L386.25,84.75 L386.50,84.64 L386.75,84.56 L387.00,84.45 L387.25,84.32 L387.50,84.18 L387.75,84.07 L388.00,83.99 L388.25,83.88 L388.50,83.73 L388.75,83.60 L389.00,83.50 L389.25,83.41 L389.50,83.29 L389.75,83.14 L390.00,83.01 L390.25,82.92 L390.50,82.82 L390.75,82.70 L391.00,82.55 L391.25,82.42 L391.50,82.33 L391.75,82.23 L392.00,82.10 L392.25,81.95 L392.50,81.84 L392.75,81.75 L393.00,81.64 L393.25,81.50 L393.50,81.35 L393.75,81.25 L394.00,81.16 L394.25,81.04 L394.50,80.89 L394.75,80.76 L395.00,80.66 L395.25,80.57 L395.50,80.44 L395.75,80.29 L396.00,80.17 L396.25,80.08 L396.50,79.98 L396.75,79.84 L397.00,79.69 L397.25,79.58 L397.50,79.49 L397.75,79.38 L398.00,79.23 L398.25,79.10 L398.50,79.00 L398.75,78.91 L399.00,78.78 L399.25,78.63 L399.50,78.51 L399.75,78.42 L400.00,78.32 L400.25,78.19 L400.50,78.04 L400.75,77.94 L401.00,77.85 L401.25,77.74 L401.50,77.59 L401.75,77.46 L402.00,77.37 L402.25,77.28 L402.50,77.15 L402.75,77.01 L403.00,76.89 L403.25,76.81 L403.50,76.71 L403.75,76.57 L404.00,76.43 L404.25,76.33 L404.50,76.25 L404.75,76.13 L405.00,75.98 L405.25,75.86 L405.50,75.77 L405.75,75.68 L406.00,75.54 L406.25,75.40 L406.50,75.30 L406.75,75.22 L407.00,75.10 L407.25,74.96 L407.50,74.83 L407.75,74.74 L408.00,74.65 L408.25,74.52 L408.50,74.37 L408.75,74.27 L409.00,74.18 L409.25,74.07 L409.50,73.92 L409.75,73.79 L410.00,73.70 L410.25,73.61 L410.50,73.48 L410.75,73.33 L411.00,73.22 L411.25,73.14 L411.50,73.02 L411.75,72.88 L412.00,72.74 L412.25,72.65 L412.50,72.56 L412.75,72.42 L413.00,72.27 L413.25,72.16 L413.50,72.07 L413.75,71.95 L414.00,71.80 L414.25,71.67 L414.50,71.58 L414.75,71.48 L415.00,71.33 L415.25,71.19 L415.50,71.08 L415.75,70.98 L416.00,70.86 L416.25,70.70 L416.50,70.57 L416.75,70.48 L417.00,70.37 L417.25,70.22 L417.50,70.07 L417.75,69.96 L418.00,69.86 L418.25,69.72 L418.50,69.56 L418.75,69.44 L419.00,69.34 L419.25,69.21 L419.50,69.05 L419.75,68.91 L420.00,68.80 L420.25,68.69 L420.50,68.54 L420.75,68.38 L421.00,68.25 L421.25,68.15 L421.50,68.00 L421.75,67.83 L422.00,67.69 L422.25,67.58 L422.50,67.44 L422.75,67.27 L423.00,67.11 L423.25,66.98 L423.50,66.86 L423.75,66.70 L424.00,66.52 L424.25,66.39 L424.50,66.27 L424.75,66.12 L425.00,65.95 L425.25,65.80 L425.50,65.68 L425.75,65.55 L426.00,65.38 L426.25,65.22 L426.50,65.10 L426.75,64.98 L427.00,64.82 L427.25,64.65 L427.50,64.51 L427.75,64.39 L428.00,64.23 L428.25,64.05 L428.50,63.89 L428.75,63.77 L429.00,63.61 L429.25,63.42 L429.50,63.25 L429.75,63.12 L430.00,62.98 L430.25,62.80 L430.50,62.63 L430.75,62.50 L431.00,62.38 L431.25,62.22 L431.50,62.05 L431.75,61.92 L432.00,61.82 L432.25,61.68 L432.50,61.51 L432.75,61.38 L433.00,61.27 L433.25,61.14 L433.50,60.97 L433.75,60.82 L434.00,60.70 L434.25,60.57 L434.50,60.39 L434.75,60.22 L435.00,60.09 L435.25,59.96 L435.50,59.78 L435.75,59.60 L436.00,59.47 L436.25,59.34 L436.50,59.18 L436.75,59.00 L437.00,58.86 L437.25,58.75 L437.50,58.60 L437.75,58.42 L438.00,58.27 L438.25,58.16 L438.50,58.01 L438.75,57.83 L439.00,57.67 L439.25,57.54 L439.50,57.39 L439.75,57.21 L440.00,57.03 L440.25,56.90 L440.50,56.76 L440.75,56.59 L441.00,56.42 L441.25,56.29 L441.50,56.17 L441.75,56.01 L442.00,55.85 L442.25,55.74 L442.50,55.63 L442.75,55.48 L443.00,55.32 L443.25,55.20 L443.50,55.09 L443.75,54.94 L444.00,54.77 L444.25,54.63 L444.50,54.50 L444.75,54.34 L445.00,54.15 L445.25,53.99 L445.50,53.86 L445.75,53.70 L446.00,53.52 L446.25,53.37 L446.50,53.25 L446.75,53.12 L447.00,52.96 L447.25,52.83 L447.50,52.74 L447.75,52.62 L448.00,52.48 L448.25,52.36 L448.50,52.27 L448.75,52.16 L449.00,52.00 L449.25,51.87 L449.50,51.76 L449.75,51.64 L450.00,51.47 L450.25,51.31 L450.50,51.18 L450.75,51.04 L451.00,50.85 L451.25,50.67 L451.50,50.52 L451.75,50.33 L452.00,50.10 L452.25,49.88 L452.50,49.69 L452.75,49.49 L453.00,49.25 L453.25,49.03 L453.50,48.85 L453.75,48.67 L454.00,48.46 L454.25,48.28 L454.50,48.15 L454.75,48.03 L455.00,47.88 L455.25,47.75 L455.50,47.67 L455.75,47.58 L456.00,47.45 L456.25,47.35 L456.50,47.29 L456.75,47.22 L457.00,47.11 L457.25,47.02 L457.50,46.96 L457.75,46.87 L458.00,46.73 L458.25,46.59 L458.50,46.48 L458.75,46.34 L459.00,46.13 L459.25,45.94 L459.50,45.77 L459.75,45.57 L460.00,45.31 L460.25,45.08 L460.50,44.87 L460.75,44.64 L461.00,44.37 L461.25,44.15 L461.50,43.96 L461.75,43.74 L462.00,43.52 L462.25,43.34 L462.50,43.19 L462.75,43.02 L463.00,42.84 L463.25,42.71 L463.50,42.60 L463.75,42.46 L464.00,42.31 L464.25,42.20 L464.50,42.11 L464.75,41.97 L465.00,41.82 L465.25,41.71 L465.50,41.60 L465.75,41.45 L466.00,41.30 L466.25,41.20 L466.50,41.10 L466.75,40.97 L467.00,40.85 L467.25,40.78 L467.50,40.70 L467.75,40.55 L468.00,40.40 L468.25,40.27 L468.50,40.10 L468.75,39.88 L469.00,39.66 L469.25,39.47 L469.50,39.24 L469.75,38.96 L470.00,38.72 L470.25,38.50 L470.50,38.25 L470.75,38.00 L471.00,37.81 L471.25,37.63 L471.50,37.41 L471.75,37.19 L472.00,37.04 L472.25,36.90 L472.50,36.73 L472.75,36.58 L473.00,36.50 L473.25,36.41 L473.50,36.30 L473.75,36.20 L474.00,36.15 L474.25,36.06 L474.50,35.91 L474.75,35.70 L475.00,35.45 L475.25,35.09 L475.50,34.67 L475.75,34.26 L476.00,33.85 L476.25,33.43 L476.50,33.03 L476.75,32.75 L477.00,32.55 L477.25,32.43 L477.50,32.42 L477.75,32.52 L478.00,32.65 L478.25,32.77 L478.50,32.94 L478.75,33.13 L479.00,33.25 L479.25,33.30 L479.50,33.34 L479.75,33.38 L480.00,33.34 L480.25,33.27 L480.50,33.22 L480.75,33.10 L481.00,32.82 L481.25,32.46 L481.50,32.09 L481.75,31.66 L482.00,31.18 L482.25,30.58 L482.50,29.91 L482.75,29.18 L483.00,28.49 L483.25,27.98 L483.50,27.71 L483.75,27.70 L484.00,28.00 L484.25,28.53 L484.50,29.08" stroke="#26a680"/>
<path d="M462.00,184.13 L462.25,184.15 L462.50,184.22 L462.75,184.26 L463.00,184.31 L463.25,184.41 L463.50,184.55 L463.75,184.66 L464.00,184.77 L464.25,184.94 L464.50,185.12 L464.75,185.25 L465.00,185.37 L465.25,185.53 L465.50,185.68 L465.75,185.76 L466.00,185.83 L466.25,185.95 L466.50,186.07 L466.75,186.15 L467.00,186.26 L467.25,186.41 L467.50,186.55 L467.75,186.66 L468.00,186.79 L468.25,186.96 L468.50,187.11 L468.75,187.23 L469.00,187.36 L469.25,187.51 L469.50,187.62 L469.75,187.70 L470.00,187.82 L470.25,187.97 L470.50,188.08 L470.75,188.16 L471.00,188.27 L471.25,188.38 L471.50,188.42 L471.75,188.43 L472.00,188.47 L472.25,188.48 L472.50,188.44 L472.75,188.38 L473.00,188.36 L473.25,188.31 L473.50,188.23 L473.75,188.16 L474.00,188.14 L474.25,188.11 L474.50,188.05 L474.75,188.03 L475.00,188.05 L475.25,188.04 L475.50,188.02 L475.75,188.04 L476.00,188.07 L476.25,188.02 L476.50,187.92 L476.75,187.83 L477.00,187.72 L477.25,187.55 L477.50,187.40 L477.75,187.31 L478.00,187.24 L478.25,187.25 L478.50,187.43 L478.75,187.74 L479.00,188.07 L479.25,188.38 L479.50,188.68 L479.75,188.90 L480.00,188.94 L480.25,188.75 L480.50,188.40 L480.75,187.90 L481.00,187.30 L481.25,186.72 L481.50,186.27 L481.75,185.95 L482.00,185.83 L482.25,186.00 L482.50,186.40 L482.75,186.85 L483.00,187.23 L483.25,187.51 L483.50,187.64 L483.75,187.69 L484.00,187.73 L484.25,187.81 L484.50,187.88" stroke="#5aa81c"/>
<path d="M244.00,147.41 L244.25,147.39 L244.50,147.39 L244.75,147.40 L245.00,147.44 L245.25,147.48 L245.50,147.51 L245.75,147.53 L246.00,147.52 L246.25,147.51 L246.50,147.50 L246.75,147.50 L247.00,147.52 L247.25,147.56 L247.50,147.60 L247.75,147.63 L248.00,147.64 L248.25,147.64 L248.50,147.63 L248.75,147.62 L249.00,147.63 L249.25,147.67 L249.50,147.71 L249.75,147.75 L250.00,147.78 L250.25,147.78 L250.50,147.77 L250.75,147.76 L251.00,147.77 L251.25,147.79 L251.50,147.84 L251.75,147.88 L252.00,147.92 L252.25,147.93 L252.50,147.93 L252.75,147.92 L253.00,147.92 L253.25,147.94 L253.50,147.98 L253.75,148.03 L254.00,148.07 L254.25,148.09 L254.50,148.09 L254.75,148.09 L255.00,148.08 L255.25,148.10 L255.50,148.14 L255.75,148.18 L256.00,148.23 L256.25,148.26 L256.50,148.27 L256.75,148.26 L257.00,148.26 L257.25,148.27 L257.50,148.30 L257.75,148.35 L258.00,148.40 L258.25,148.43 L258.50,148.44 L258.75,148.44 L259.00,148.44 L259.25,148.45 L259.50,148.48 L259.75,148.53 L260.00,148.58 L260.25,148.61 L260.50,148.62 L260.75,148.62 L261.00,148.62 L261.25,148.63 L261.50,148.66 L261.75,148.71 L262.00,148.76 L262.25,148.79 L262.50,148.81 L262.75,148.80 L263.00,148.80 L263.25,148.81 L263.50,148.85 L263.75,148.90 L264.00,148.94 L264.25,148.98 L264.50,148.99 L264.75,148.98 L265.00,148.98 L265.25,149.00 L265.50,149.03 L265.75,149.08 L266.00,149.13 L266.25,149.16 L266.50,149.17 L266.75,149.16 L267.00,149.16 L267.25,149.18 L267.50,149.22 L267.75,149.28 L268.00,149.32 L268.25,149.34 L268.50,149.35 L268.75,149.34 L269.00,149.35 L269.25,149.38 L269.50,149.42 L269.75,149.48 L270.00,149.52 L270.25,149.53 L270.50,149.53 L270.75,149.53 L271.00,149.55 L271.25,149.58 L271.50,149.64 L271.75,149.69 L272.00,149.72 L272.25,149.73 L272.50,149.73 L272.75,149.73 L273.00,149.76 L273.25,149.80 L273.50,149.86 L273.75,149.90 L274.00,149.92 L274.25,149.93 L274.50,149.92 L274.75,149.94 L275.00,149.98 L275.25,150.03 L275.50,150.08 L275.75,150.12 L276.00,150.12 L276.25,150.12 L276.50,150.13 L276.75,150.16 L277.00,150.21 L277.25,150.26 L277.50,150.31 L277.75,150.32 L278.00,150.32 L278.25,150.33 L278.50,150.35 L278.75,150.39 L279.00,150.44 L279.25,150.49 L279.50,150.52 L279.75,150.53 L280.00,150.52 L280.25,150.54 L280.50,150.57 L280.75,150.63 L281.00,150.68 L281.25,150.72 L281.50,150.72 L281.75,150.72 L282.00,150.73 L282.25,150.76 L282.50,150.81 L282.75,150.87 L283.00,150.91 L283.25,150.92 L283.50,150.92 L283.75,150.92 L284.00,150.95 L284.25,151.00 L284.50,151.06 L284.75,151.10 L285.00,151.12 L285.25,151.11 L285.50,151.12 L285.75,151.14 L286.00,151.19 L286.25,151.24 L286.50,151.29 L286.75,151.30 L287.00,151.30 L287.25,151.30 L287.50,151.33 L287.75,151.37 L288.00,151.43 L288.25,151.47 L288.50,151.49 L288.75,151.48 L289.00,151.48 L289.25,151.51 L289.50,151.55 L289.75,151.61 L290.00,151.65 L290.25,151.66 L290.50,151.66 L290.75,151.66 L291.00,151.69 L291.25,151.73 L291.50,151.79 L291.75,151.83 L292.00,151.85 L292.25,151.84 L292.50,151.85 L292.75,151.88 L293.00,151.93 L293.25,151.98 L293.50,152.02 L293.75,152.04 L294.00,152.04 L294.25,152.05 L294.50,152.08 L294.75,152.14 L295.00,152.20 L295.25,152.23 L295.50,152.25 L295.75,152.25 L296.00,152.27 L296.25,152.31 L296.50,152.37 L296.75,152.43 L297.00,152.47 L297.25,152.48 L297.50,152.49 L297.75,152.52 L298.00,152.58 L298.25,152.65 L298.50,152.71 L298.75,152.74 L299.00,152.75 L299.25,152.77 L299.50,152.81 L299.75,152.88 L300.00,152.95 L300.25,153.00 L300.50,153.03 L300.75,153.05 L301.00,153.07 L301.25,153.13 L301.50,153.20 L301.75,153.27 L302.00,153.31 L302.25,153.34 L302.50,153.35 L302.75,153.39 L303.00,153.45 L303.25,153.53 L303.50,153.59 L303.75,153.62 L304.00,153.64 L304.25,153.66 L304.50,153.71 L304.75,153.78 L305.00,153.85 L305.25,153.90 L305.50,153.92 L305.75,153.94 L306.00,153.97 L306.25,154.03 L306.50,154.10 L306.75,154.16 L307.00,154.19 L307.25,154.20 L307.50,154.22 L307.75,154.27 L308.00,154.34 L308.25,154.41 L308.50,154.45 L308.75,154.47 L309.00,154.48 L309.25,154.52 L309.50,154.58 L309.75,154.65 L310.00,154.71 L310.25,154.73 L310.50,154.75 L310.75,154.77 L311.00,154.83 L311.25,154.90 L311.50,154.96 L311.75,154.99 L312.00,155.01 L312.25,155.03 L312.50,155.07 L312.75,155.14 L313.00,155.21 L313.25,155.25 L313.50,155.27 L313.75,155.29 L314.00,155.32 L314.25,155.38 L314.50,155.46 L314.75,155.51 L315.00,155.53 L315.25,155.54 L315.50,155.57 L315.75,155.63 L316.00,155.70 L316.25,155.76 L316.50,155.79 L316.75,155.80 L317.00,155.83 L317.25,155.88 L317.50,155.95 L317.75,156.01 L318.00,156.05 L318.25,156.06 L318.50,156.08 L318.75,156.13 L319.00,156.20 L319.25,156.27 L319.50,156.31 L319.75,156.32 L320.00,156.34 L320.25,156.38 L320.50,156.45 L320.75,156.52 L321.00,156.56 L321.25,156.58 L321.50,156.60 L321.75,156.64 L322.00,156.70 L322.25,156.77 L322.50,156.82 L322.75,156.84 L323.00,156.86 L323.25,156.89 L323.50,156.96 L323.75,157.03 L324.00,157.08 L324.25,157.10 L324.50,157.12 L324.75,157.15 L325.00,157.22 L325.25,157.29 L325.50,157.34 L325.75,157.36 L326.00,157.38 L326.25,157.42 L326.50,157.48 L326.75,157.55 L327.00,157.60 L327.25,157.62 L327.50,157.64 L327.75,157.68 L328.00,157.75 L328.25,157.82 L328.50,157.86 L328.75,157.88 L329.00,157.90 L329.25,157.94 L329.50,158.01 L329.75,158.08 L330.00,158.13 L330.25,158.14 L330.50,158.16 L330.75,158.21 L331.00,158.28 L331.25,158.35 L331.50,158.39 L331.75,158.40 L332.00,158.42 L332.25,158.47 L332.50,158.55 L332.75,158.61 L333.00,158.65 L333.25,158.66 L333.50,158.69 L333.75,158.74 L334.00,158.82 L334.25,158.88 L334.50,158.91 L334.75,158.92 L335.00,158.95 L335.25,159.02 L335.50,159.09 L335.75,159.14 L336.00,159.17 L336.25,159.18 L336.50,159.22 L336.75,159.29 L337.00,159.36 L337.25,159.41 L337.50,159.43 L337.75,159.45 L338.00,159.50 L338.25,159.57 L338.50,159.64 L338.75,159.67 L339.00,159.69 L339.25,159.72 L339.50,159.78 L339.75,159.85 L340.00,159.91 L340.25,159.94 L340.50,159.95 L340.75,159.99 L341.00,160.06 L341.25,160.13 L341.50,160.18 L341.75,160.20 L342.00,160.22 L342.25,160.27 L342.50,160.35 L342.75,160.42 L343.00,160.45 L343.25,160.47 L343.50,160.50 L343.75,160.56 L344.00,160.64 L344.25,160.70 L344.50,160.72 L344.75,160.74 L345.00,160.78 L345.25,160.86 L345.50,160.93 L345.75,160.97 L346.00,160.99 L346.25,161.02 L346.50,161.08 L346.75,161.16 L347.00,161.23 L347.25,161.26 L347.50,161.28 L347.75,161.33 L348.00,161.41 L348.25,161.49 L348.50,161.54 L348.75,161.57 L349.00,161.60 L349.25,161.67 L349.50,161.75 L349.75,161.82 L350.00,161.86 L350.25,161.89 L350.50,161.94 L350.75,162.02 L351.00,162.10 L351.25,162.15 L351.50,162.17 L351.75,162.21 L352.00,162.27 L352.25,162.36 L352.50,162.42 L352.75,162.45 L353.00,162.47 L353.25,162.52 L353.50,162.59 L353.75,162.66 L354.00,162.70 L354.25,162.71 L354.50,162.74 L354.75,162.80 L355.00,162.87 L355.25,162.92 L355.50,162.93 L355.75,162.94 L356.00,162.98 L356.25,163.05 L356.50,163.09 L356.75,163.11 L357.00,163.11 L357.25,163.14 L357.50,163.20 L357.75,163.25 L358.00,163.28 L358.25,163.28 L358.50,163.29 L358.75,163.34 L359.00,163.40 L359.25,163.44 L359.50,163.44 L359.75,163.44 L360.00,163.48 L360.25,163.54 L360.50,163.58 L360.75,163.59 L361.00,163.59 L361.25,163.61 L361.50,163.67 L361.75,163.71 L362.00,163.72 L362.25,163.72 L362.50,163.73 L362.75,163.78 L363.00,163.82 L363.25,163.84 L363.50,163.83 L363.75,163.83 L364.00,163.87 L364.25,163.92 L364.50,163.94 L364.75,163.93 L365.00,163.92 L365.25,163.95 L365.50,163.99 L365.75,164.01 L366.00,164.00 L366.25,163.99 L366.50,164.00 L366.75,164.04 L367.00,164.07 L367.25,164.06 L367.50,164.04 L367.75,164.04 L368.00,164.08 L368.25,164.11 L368.50,164.10 L368.75,164.08 L369.00,164.08 L369.25,164.11 L369.50,164.14 L369.75,164.14 L370.00,164.11 L370.25,164.11 L370.50,164.14 L370.75,164.17 L371.00,164.17 L371.25,164.14 L371.50,164.13 L371.75,164.16 L372.00,164.19 L372.25,164.19 L372.50,164.17 L372.75,164.16 L373.00,164.19 L373.25,164.22 L373.50,164.23 L373.75,164.21 L374.00,164.20 L374.25,164.22 L374.50,164.26 L374.75,164.27 L375.00,164.25 L375.25,164.24 L375.50,164.27 L375.75,164.31 L376.00,164.32 L376.25,164.31 L376.50,164.30 L376.75,164.33 L377.00,164.38 L377.25,164.40 L377.50,164.39 L377.75,164.39 L378.00,164.43 L378.25,164.49 L378.50,164.51 L378.75,164.51 L379.00,164.52 L379.25,164.56 L379.50,164.62 L379.75,164.65 L380.00,164.65 L380.25,164.66 L380.50,164.71 L380.75,164.77 L381.00,164.80 L381.25,164.81 L381.50,164.83 L381.75,164.88 L382.00,164.94 L382.25,164.97 L382.50,164.98 L382.75,165.00 L383.00,165.06 L383.25,165.13 L383.50,165.15 L383.75,165.16 L384.00,165.19 L384.25,165.25 L384.50,165.31 L384.75,165.33 L385.00,165.34 L385.25,165.37 L385.50,165.44 L385.75,165.49 L386.00,165.51 L386.25,165.51 L386.50,165.55 L386.75,165.62 L387.00,165.67 L387.25,165.68 L387.50,165.70 L387.75,165.75 L388.00,165.82 L388.25,165.87 L388.50,165.88 L388.75,165.90 L389.00,165.96 L389.25,166.03 L389.50,166.07 L389.75,166.08 L390.00,166.11 L390.25,166.18 L390.50,166.25 L390.75,166.28 L391.00,166.30 L391.25,166.34 L391.50,166.41 L391.75,166.47 L392.00,166.50 L392.25,166.51 L392.50,166.56 L392.75,166.64 L393.00,166.70 L393.25,166.71 L393.50,166.74 L393.75,166.80 L394.00,166.87 L394.25,166.91 L394.50,166.93 L394.75,166.96 L395.00,167.03 L395.25,167.10 L395.50,167.13 L395.75,167.14 L396.00,167.18 L396.25,167.25 L396.50,167.31 L396.75,167.33 L397.00,167.34 L397.25,167.39 L397.50,167.47 L397.75,167.51 L398.00,167.52 L398.25,167.55 L398.50,167.61 L398.75,167.67 L399.00,167.70 L399.25,167.71 L399.50,167.75 L399.75,167.82 L400.00,167.87 L400.25,167.89 L400.50,167.91 L400.75,167.96 L401.00,168.03 L401.25,168.07 L401.50,168.08 L401.75,168.11 L402.00,168.17 L402.25,168.24 L402.50,168.27 L402.75,168.28 L403.00,168.33 L403.25,168.40 L403.50,168.46 L403.75,168.47 L404.00,168.50 L404.25,168.56 L404.50,168.63 L404.75,168.67 L405.00,168.69 L405.25,168.73 L405.50,168.81 L405.75,168.87 L406.00,168.90 L406.25,168.93 L406.50,168.99 L406.75,169.07 L407.00,169.12 L407.25,169.15 L407.50,169.19 L407.75,169.27 L408.00,169.34 L408.25,169.38 L408.50,169.41 L408.75,169.47 L409.00,169.56 L409.25,169.62 L409.50,169.64 L409.75,169.69 L410.00,169.77 L410.25,169.85 L410.50,169.89 L410.75,169.92 L411.00,169.99 L411.25,170.08 L411.50,170.15 L411.75,170.18 L412.00,170.22 L412.25,170.31 L412.50,170.39 L412.75,170.44 L413.00,170.47 L413.25,170.55 L413.50,170.64 L413.75,170.71 L414.00,170.74 L414.25,170.79 L414.50,170.88 L414.75,170.97 L415.00,171.01 L415.25,171.05 L415.50,171.13 L415.75,171.23 L416.00,171.29 L416.25,171.33 L416.50,171.39 L416.75,171.48 L417.00,171.57 L417.25,171.61 L417.50,171.66 L417.75,171.74 L418.00,171.84 L418.25,171.90 L418.50,171.94 L418.75,172.01 L419.00,172.11 L419.25,172.19 L419.50,172.23 L419.75,172.28 L420.00,172.38 L420.25,172.47 L420.50,172.52 L420.75,172.56 L421.00,172.65 L421.25,172.75 L421.50,172.82 L421.75,172.86 L422.00,172.92 L422.25,173.03 L422.50,173.11 L422.75,173.15 L423.00,173.21 L423.25,173.30 L423.50,173.40 L423.75,173.45 L424.00,173.50 L424.25,173.58 L424.50,173.68 L424.75,173.75 L425.00,173.79 L425.25,173.86 L425.50,173.96 L425.75,174.05 L426.00,174.09 L426.25,174.15 L426.50,174.25 L426.75,174.34 L427.00,174.40 L427.25,174.45 L427.50,174.54 L427.75,174.65 L428.00,174.72 L428.25,174.77 L428.50,174.85 L428.75,174.96 L429.00,175.04 L429.25,175.10 L429.50,175.16 L429.75,175.27 L430.00,175.37 L430.25,175.43 L430.50,175.50 L430.75,175.60 L431.00,175.71 L431.25,175.78 L431.50,175.83 L431.75,175.92 L432.00,176.03 L432.25,176.11 L432.50,176.16 L432.75,176.24 L433.00,176.36 L433.25,176.45 L433.50,176.50 L433.75,176.58 L434.00,176.70 L434.25,176.80 L434.50,176.87 L434.75,176.94 L435.00,177.06 L435.25,177.18 L435.50,177.26 L435.75,177.34 L436.00,177.45 L436.25,177.58 L436.50,177.66 L436.75,177.73 L437.00,177.84 L437.25,177.96 L437.50,178.05 L437.75,178.10 L438.00,178.19 L438.25,178.30 L438.50,178.38 L438.75,178.43 L439.00,178.49 L439.25,178.59 L439.50,178.67 L439.75,178.71 L440.00,178.77 L440.25,178.86 L440.50,178.95 L440.75,178.99 L441.00,179.04 L441.25,179.14 L441.50,179.24 L441.75,179.30 L442.00,179.36 L442.25,179.46 L442.50,179.58 L442.75,179.66 L443.00,179.72 L443.25,179.83 L443.50,179.96 L443.75,180.04 L444.00,180.11 L444.25,180.21 L444.50,180.33 L444.75,180.41 L445.00,180.46 L445.25,180.55 L445.50,180.66 L445.75,180.73 L446.00,180.77 L446.25,180.83 L446.50,180.93 L446.75,180.99 L447.00,181.02 L447.25,181.07 L447.50,181.15 L447.75,181.22 L448.00,181.24 L448.25,181.29 L448.50,181.38 L448.75,181.44 L449.00,181.47 L449.25,181.52 L449.50,181.62 L449.75,181.69 L450.00,181.72 L450.25,181.78 L450.50,181.87 L450.75,181.94 L451.00,181.98 L451.25,182.03 L451.50,182.12 L451.75,182.19 L452.00,182.22 L452.25,182.26 L452.50,182.34 L452.75,182.41 L453.00,182.43 L453.25,182.47 L453.50,182.55 L453.75,182.62 L454.00,182.65 L454.25,182.69 L454.50,182.78 L454.75,182.86 L455.00,182.90 L455.25,182.95 L455.50,183.05 L455.75,183.14 L456.00,183.19 L456.25,183.26 L456.50,183.36 L456.75,183.45 L457.00,183.50 L457.25,183.56 L457.50,183.66 L457.75,183.74 L458.00,183.77 L458.25,183.82 L458.50,183.91 L458.75,183.96 L459.00,183.97 L459.25,184.00 L459.50,184.07 L459.75,184.10 L460.00,184.09 L460.25,184.11 L460.50,184.16 L460.75,184.18 L461.00,184.17 L461.25,184.20 L461.50,184.25 L461.75,184.28 L462.00,184.28 L462.25,184.32 L462.50,184.40 L462.75,184.44 L463.00,184.47 L463.25,184.55 L463.50,184.65 L463.75,184.72 L464.00,184.77 L464.25,184.88 L464.50,185.00 L464.75,185.08 L465.00,185.16 L465.25,185.28 L465.50,185.41 L465.75,185.50 L466.00,185.59 L466.25,185.72 L466.50,185.86 L466.75,185.96 L467.00,186.07 L467.25,186.22 L467.50,186.36 L467.75,186.45 L468.00,186.56 L468.25,186.70 L468.50,186.81 L468.75,186.88 L469.00,186.97 L469.25,187.08 L469.50,187.15 L469.75,187.19 L470.00,187.27 L470.25,187.38 L470.50,187.45 L470.75,187.50 L471.00,187.59 L471.25,187.68 L471.50,187.73 L471.75,187.77 L472.00,187.84 L472.25,187.90 L472.50,187.90 L472.75,187.90 L473.00,187.92 L473.25,187.94 L473.50,187.90 L473.75,187.89 L474.00,187.92 L474.25,187.92 L474.50,187.89 L474.75,187.89 L475.00,187.92 L475.25,187.92 L475.50,187.90 L475.75,187.92 L476.00,187.96 L476.25,187.94 L476.50,187.91 L476.75,187.90 L477.00,187.89 L477.25,187.83 L477.50,187.77 L477.75,187.75 L478.00,187.72 L478.25,187.70 L478.50,187.78 L478.75,187.95 L479.00,188.10 L479.25,188.22 L479.50,188.35 L479.75,188.44 L480.00,188.41 L480.25,188.27 L480.50,188.07 L480.75,187.80 L481.00,187.41 L481.25,186.98 L481.50,186.55 L481.75,186.08 L482.00,185.55 L482.25,185.04 L482.50,184.17 L482.75,183.00 L483.00,181.94 L483.25,181.44 L483.50,181.74 L483.75,182.56 L484.00,183.74 L484.25,185.10 L484.50,186.37" stroke="#5c6a4f"/>
<path d="M205.00,146.23 L205.25,146.20 L205.50,146.22 L205.75,146.30 L206.00,146.41 L206.25,146.51 L206.50,146.57 L206.75,146.58 L207.00,146.54 L207.25,146.45 L207.50,146.36 L207.75,146.28 L208.00,146.24 L208.25,146.26 L208.50,146.32 L208.75,146.41 L209.00,146.50 L209.25,146.55 L209.50,146.57 L209.75,146.53 L210.00,146.46 L210.25,146.38 L210.50,146.32 L210.75,146.30 L211.00,146.32 L211.25,146.38 L211.50,146.45 L211.75,146.52 L212.00,146.57 L212.25,146.57 L212.50,146.54 L212.75,146.48 L213.00,146.41 L213.25,146.37 L213.50,146.36 L213.75,146.39 L214.00,146.45 L214.25,146.52 L214.50,146.57 L214.75,146.60 L215.00,146.59 L215.25,146.55 L215.50,146.50 L215.75,146.46 L216.00,146.43 L216.25,146.44 L216.50,146.49 L216.75,146.55 L217.00,146.60 L217.25,146.64 L217.50,146.65 L217.75,146.63 L218.00,146.58 L218.25,146.54 L218.50,146.51 L218.75,146.51 L219.00,146.54 L219.25,146.59 L219.50,146.65 L219.75,146.69 L220.00,146.71 L220.25,146.69 L220.50,146.66 L220.75,146.61 L221.00,146.58 L221.25,146.58 L221.50,146.61 L221.75,146.66 L222.00,146.71 L222.25,146.75 L222.50,146.77 L222.75,146.76 L223.00,146.72 L223.25,146.69 L223.50,146.66 L223.75,146.66 L224.00,146.68 L224.25,146.73 L224.50,146.78 L224.75,146.82 L225.00,146.83 L225.25,146.82 L225.50,146.79 L225.75,146.75 L226.00,146.73 L226.25,146.74 L226.50,146.76 L226.75,146.81 L227.00,146.86 L227.25,146.89 L227.50,146.89 L227.75,146.88 L228.00,146.84 L228.25,146.81 L228.50,146.80 L228.75,146.81 L229.00,146.85 L229.25,146.89 L229.50,146.93 L229.75,146.95 L230.00,146.95 L230.25,146.92 L230.50,146.89 L230.75,146.87 L231.00,146.87 L231.25,146.90 L231.50,146.94 L231.75,146.98 L232.00,147.01 L232.25,147.02 L232.50,147.01 L232.75,146.98 L233.00,146.96 L233.25,146.96 L233.50,146.97 L233.75,147.01 L234.00,147.05 L234.25,147.09 L234.50,147.10 L234.75,147.10 L235.00,147.08 L235.25,147.06 L235.50,147.05 L235.75,147.06 L236.00,147.09 L236.25,147.13 L236.50,147.17 L236.75,147.19 L237.00,147.20 L237.25,147.18 L237.50,147.16 L237.75,147.15 L238.00,147.16 L238.25,147.19 L238.50,147.22 L238.75,147.26 L239.00,147.28 L239.25,147.28 L239.50,147.27 L239.75,147.25 L240.00,147.24 L240.25,147.25 L240.50,147.27 L240.75,147.31 L241.00,147.34 L241.25,147.36 L241.50,147.36 L241.75,147.34 L242.00,147.32 L242.25,147.31 L242.50,147.32 L242.75,147.34 L243.00,147.37 L243.25,147.40 L243.50,147.42 L243.75,147.41 L244.00,147.39 L244.25,147.37 L244.50,147.35 L244.75,147.36 L245.00,147.38 L245.25,147.41 L245.50,147.43 L245.75,147.44 L246.00,147.42 L246.25,147.40 L246.50,147.37 L246.75,147.36 L247.00,147.37 L247.25,147.39 L247.50,147.42 L247.75,147.44 L248.00,147.43 L248.25,147.41 L248.50,147.38 L248.75,147.36 L249.00,147.36 L249.25,147.38 L249.50,147.41 L249.75,147.43 L250.00,147.44 L250.25,147.42 L250.50,147.40 L250.75,147.37 L251.00,147.36 L251.25,147.37 L251.50,147.39 L251.75,147.42 L252.00,147.43 L252.25,147.43 L252.50,147.41 L252.75,147.38 L253.00,147.36 L253.25,147.36 L253.50,147.38 L253.75,147.41 L254.00,147.43 L254.25,147.43 L254.50,147.41 L254.75,147.38 L255.00,147.36 L255.25,147.35 L255.50,147.37 L255.75,147.40 L256.00,147.42 L256.25,147.43 L256.50,147.41 L256.75,147.39 L257.00,147.36 L257.25,147.35 L257.50,147.36 L257.75,147.39 L258.00,147.41 L258.25,147.42 L258.50,147.41 L258.75,147.39 L259.00,147.36 L259.25,147.35 L259.50,147.36 L259.75,147.38 L260.00,147.41 L260.25,147.42 L260.50,147.41 L260.75,147.38 L261.00,147.36 L261.25,147.34 L261.50,147.35 L261.75,147.38 L262.00,147.40 L262.25,147.41 L262.50,147.40 L262.75,147.38 L263.00,147.35 L263.25,147.34 L263.50,147.35 L263.75,147.37 L264.00,147.40 L264.25,147.41 L264.50,147.40 L264.75,147.37 L265.00,147.34 L265.25,147.33 L265.50,147.35 L265.75,147.37 L266.00,147.40 L266.25,147.40 L266.50,147.38 L266.75,147.36 L267.00,147.33 L267.25,147.33 L267.50,147.35 L267.75,147.37 L268.00,147.39 L268.25,147.39 L268.50,147.37 L268.75,147.34 L269.00,147.32 L269.25,147.33 L269.50,147.35 L269.75,147.38 L270.00,147.39 L270.25,147.38 L270.50,147.35 L270.75,147.33 L271.00,147.32 L271.25,147.33 L271.50,147.35 L271.75,147.38 L272.00,147.38 L272.25,147.37 L272.50,147.34 L272.75,147.31 L273.00,147.31 L273.25,147.33 L273.50,147.36 L273.75,147.38 L274.00,147.37 L274.25,147.35 L274.50,147.32 L274.75,147.30 L275.00,147.31 L275.25,147.34 L275.50,147.36 L275.75,147.37 L276.00,147.35 L276.25,147.32 L276.50,147.30 L276.75,147.30 L277.00,147.32 L277.25,147.35 L277.50,147.36 L277.75,147.35 L278.00,147.33 L278.25,147.30 L278.50,147.29 L278.75,147.31 L279.00,147.33 L279.25,147.36 L279.50,147.35 L279.75,147.33 L280.00,147.30 L280.25,147.29 L280.50,147.29 L280.75,147.32 L281.00,147.34 L281.25,147.35 L281.50,147.33 L281.75,147.30 L282.00,147.28 L282.25,147.28 L282.50,147.31 L282.75,147.33 L283.00,147.34 L283.25,147.33 L283.50,147.30 L283.75,147.28 L284.00,147.28 L284.25,147.30 L284.50,147.32 L284.75,147.34 L285.00,147.33 L285.25,147.30 L285.50,147.27 L285.75,147.27 L286.00,147.29 L286.25,147.32 L286.50,147.33 L286.75,147.32 L287.00,147.29 L287.25,147.27 L287.50,147.26 L287.75,147.28 L288.00,147.31 L288.25,147.32 L288.50,147.32 L288.75,147.29 L289.00,147.26 L289.25,147.25 L289.50,147.27 L289.75,147.30 L290.00,147.32 L290.25,147.31 L290.50,147.28 L290.75,147.25 L291.00,147.25 L291.25,147.27 L291.50,147.29 L291.75,147.31 L292.00,147.30 L292.25,147.27 L292.50,147.24 L292.75,147.24 L293.00,147.26 L293.25,147.29 L293.50,147.30 L293.75,147.28 L294.00,147.25 L294.25,147.23 L294.50,147.23 L294.75,147.26 L295.00,147.28 L295.25,147.29 L295.50,147.27 L295.75,147.24 L296.00,147.22 L296.25,147.23 L296.50,147.25 L296.75,147.27 L297.00,147.27 L297.25,147.25 L297.50,147.22 L297.75,147.21 L298.00,147.22 L298.25,147.25 L298.50,147.27 L298.75,147.26 L299.00,147.23 L299.25,147.20 L299.50,147.20 L299.75,147.22 L300.00,147.25 L300.25,147.25 L300.50,147.24 L300.75,147.21 L301.00,147.19 L301.25,147.19 L301.50,147.22 L301.75,147.24 L302.00,147.24 L302.25,147.21 L302.50,147.18 L302.75,147.17 L303.00,147.19 L303.25,147.22 L303.50,147.23 L303.75,147.22 L304.00,147.19 L304.25,147.17 L304.50,147.17 L304.75,147.19 L305.00,147.22 L305.25,147.22 L305.50,147.19 L305.75,147.16 L306.00,147.15 L306.25,147.17 L306.50,147.20 L306.75,147.21 L307.00,147.20 L307.25,147.17 L307.50,147.14 L307.75,147.15 L308.00,147.17 L308.25,147.20 L308.50,147.19 L308.75,147.17 L309.00,147.14 L309.25,147.13 L309.50,147.15 L309.75,147.18 L310.00,147.19 L310.25,147.17 L310.50,147.14 L310.75,147.12 L311.00,147.13 L311.25,147.16 L311.50,147.18 L311.75,147.17 L312.00,147.14 L312.25,147.12 L312.50,147.12 L312.75,147.14 L313.00,147.17 L313.25,147.17 L313.50,147.14 L313.75,147.11 L314.00,147.11 L314.25,147.12 L314.50,147.15 L314.75,147.16 L315.00,147.14 L315.25,147.11 L315.50,147.10 L315.75,147.11 L316.00,147.14 L316.25,147.15 L316.50,147.14 L316.75,147.11 L317.00,147.09 L317.25,147.10 L317.50,147.13 L317.75,147.15 L318.00,147.14 L318.25,147.11 L318.50,147.09 L318.75,147.09 L319.00,147.12 L319.25,147.14 L319.50,147.14 L319.75,147.11 L320.00,147.08 L320.25,147.08 L320.50,147.11 L320.75,147.13 L321.00,147.13 L321.25,147.11 L321.50,147.08 L321.75,147.08 L322.00,147.10 L322.25,147.13 L322.50,147.13 L322.75,147.11 L323.00,147.08 L323.25,147.07 L323.50,147.10 L323.75,147.12 L324.00,147.13 L324.25,147.11 L324.50,147.08 L324.75,147.07 L325.00,147.09 L325.25,147.12 L325.50,147.13 L325.75,147.11 L326.00,147.08 L326.25,147.07 L326.50,147.10 L326.75,147.12 L327.00,147.13 L327.25,147.10 L327.50,147.08 L327.75,147.07 L328.00,147.10 L328.25,147.12 L328.50,147.13 L328.75,147.10 L329.00,147.08 L329.25,147.07 L329.50,147.10 L329.75,147.13 L330.00,147.13 L330.25,147.10 L330.50,147.07 L330.75,147.08 L331.00,147.10 L331.25,147.13 L331.50,147.12 L331.75,147.09 L332.00,147.07 L332.25,147.08 L332.50,147.11 L332.75,147.13 L333.00,147.12 L333.25,147.09 L333.50,147.07 L333.75,147.08 L334.00,147.11 L334.25,147.13 L334.50,147.11 L334.75,147.08 L335.00,147.07 L335.25,147.09 L335.50,147.12 L335.75,147.13 L336.00,147.11 L336.25,147.08 L336.50,147.07 L336.75,147.10 L337.00,147.12 L337.25,147.13 L337.50,147.10 L337.75,147.07 L338.00,147.08 L338.25,147.11 L338.50,147.13 L338.75,147.12 L339.00,147.09 L339.25,147.07 L339.50,147.08 L339.75,147.11 L340.00,147.13 L340.25,147.11 L340.50,147.08 L340.75,147.07 L341.00,147.09 L341.25,147.12 L341.50,147.13 L341.75,147.10 L342.00,147.07 L342.25,147.08 L342.50,147.11 L342.75,147.13 L343.00,147.12 L343.25,147.09 L343.50,147.07 L343.75,147.09 L344.00,147.12 L344.25,147.13 L344.50,147.11 L344.75,147.08 L345.00,147.07 L345.25,147.10 L345.50,147.13 L345.75,147.12 L346.00,147.09 L346.25,147.07 L346.50,147.08 L346.75,147.11 L347.00,147.13 L347.25,147.11 L347.50,147.08 L347.75,147.07 L348.00,147.10 L348.25,147.12 L348.50,147.12 L348.75,147.09 L349.00,147.07 L349.25,147.08 L349.50,147.11 L349.75,147.13 L350.00,147.11 L350.25,147.08 L350.50,147.07 L350.75,147.10 L351.00,147.13 L351.25,147.12 L351.50,147.09 L351.75,147.07 L352.00,147.09 L352.25,147.12 L352.50,147.13 L352.75,147.11 L353.00,147.08 L353.25,147.08 L353.50,147.10 L353.75,147.13 L354.00,147.12 L354.25,147.09 L354.50,147.07 L354.75,147.09 L355.00,147.12 L355.25,147.12 L355.50,147.10 L355.75,147.07 L356.00,147.08 L356.25,147.11 L356.50,147.13 L356.75,147.11 L357.00,147.08 L357.25,147.08 L357.50,147.10 L357.75,147.13 L358.00,147.12 L358.25,147.09 L358.50,147.07 L358.75,147.09 L359.00,147.12 L359.25,147.12 L359.50,147.10 L359.75,147.07 L360.00,147.08 L360.25,147.11 L360.50,147.13 L360.75,147.11 L361.00,147.08 L361.25,147.08 L361.50,147.11 L361.75,147.13 L362.00,147.11 L362.25,147.08 L362.50,147.07 L362.75,147.10 L363.00,147.12 L363.25,147.12 L363.50,147.09 L363.75,147.07 L364.00,147.09 L364.25,147.12 L364.50,147.12 L364.75,147.10 L365.00,147.07 L365.25,147.08 L365.50,147.12 L365.75,147.13 L366.00,147.10 L366.25,147.08 L366.50,147.08 L366.75,147.11 L367.00,147.13 L367.25,147.11 L367.50,147.08 L367.75,147.08 L368.00,147.11 L368.25,147.13 L368.50,147.11 L368.75,147.08 L369.00,147.08 L369.25,147.10 L369.50,147.13 L369.75,147.12 L370.00,147.08 L370.25,147.07 L370.50,147.10 L370.75,147.12 L371.00,147.12 L371.25,147.09 L371.50,147.07 L371.75,147.10 L372.00,147.12 L372.25,147.12 L372.50,147.09 L372.75,147.07 L373.00,147.09 L373.25,147.12 L373.50,147.12 L373.75,147.09 L374.00,147.07 L374.25,147.09 L374.50,147.12 L374.75,147.12 L375.00,147.09 L375.25,147.07 L375.50,147.09 L375.75,147.12 L376.00,147.12 L376.25,147.09 L376.50,147.07 L376.75,147.09 L377.00,147.12 L377.25,147.12 L377.50,147.09 L377.75,147.07 L378.00,147.09 L378.25,147.12 L378.50,147.12 L378.75,147.09 L379.00,147.07 L379.25,147.09 L379.50,147.12 L379.75,147.12 L380.00,147.09 L380.25,147.07 L380.50,147.09 L380.75,147.12 L381.00,147.12 L381.25,147.09 L381.50,147.07 L381.75,147.10 L382.00,147.12 L382.25,147.12 L382.50,147.09 L382.75,147.08 L383.00,147.10 L383.25,147.12 L383.50,147.11 L383.75,147.08 L384.00,147.08 L384.25,147.10 L384.50,147.13 L384.75,147.11 L385.00,147.08 L385.25,147.08 L385.50,147.11 L385.75,147.13 L386.00,147.11 L386.25,147.08 L386.50,147.08 L386.75,147.11 L387.00,147.12 L387.25,147.10 L387.50,147.08 L387.75,147.09 L388.00,147.12 L388.25,147.12 L388.50,147.09 L388.75,147.07 L389.00,147.09 L389.25,147.12 L389.50,147.12 L389.75,147.09 L390.00,147.08 L390.25,147.10 L390.50,147.12 L390.75,147.11 L391.00,147.08 L391.25,147.08 L391.50,147.11 L391.75,147.13 L392.00,147.11 L392.25,147.08 L392.50,147.08 L392.75,147.11 L393.00,147.12 L393.25,147.10 L393.50,147.08 L393.75,147.09 L394.00,147.12 L394.25,147.12 L394.50,147.09 L394.75,147.08 L395.00,147.10 L395.25,147.12 L395.50,147.11 L395.75,147.08 L396.00,147.08 L396.25,147.11 L396.50,147.12 L396.75,147.10 L397.00,147.08 L397.25,147.09 L397.50,147.12 L397.75,147.12 L398.00,147.09 L398.25,147.08 L398.50,147.10 L398.75,147.12 L399.00,147.11 L399.25,147.08 L399.50,147.08 L399.75,147.11 L400.00,147.12 L400.25,147.10 L400.50,147.08 L400.75,147.09 L401.00,147.12 L401.25,147.12 L401.50,147.09 L401.75,147.08 L402.00,147.10 L402.25,147.12 L402.50,147.11 L402.75,147.08 L403.00,147.08 L403.25,147.11 L403.50,147.12 L403.75,147.10 L404.00,147.08 L404.25,147.09 L404.50,147.12 L404.75,147.12 L405.00,147.08 L405.25,147.08 L405.50,147.11 L405.75,147.12 L406.00,147.10 L406.25,147.08 L406.50,147.09 L406.75,147.12 L407.00,147.12 L407.25,147.09 L407.50,147.08 L407.75,147.10 L408.00,147.12 L408.25,147.11 L408.50,147.08 L408.75,147.09 L409.00,147.12 L409.25,147.12 L409.50,147.09 L409.75,147.08 L410.00,147.10 L410.25,147.12 L410.50,147.11 L410.75,147.08 L411.00,147.09 L411.25,147.12 L411.50,147.12 L411.75,147.09 L412.00,147.08 L412.25,147.10 L412.50,147.12 L412.75,147.11 L413.00,147.08 L413.25,147.09 L413.50,147.12 L413.75,147.12 L414.00,147.09 L414.25,147.08 L414.50,147.10 L414.75,147.12 L415.00,147.10 L415.25,147.08 L415.50,147.09 L415.75,147.12 L416.00,147.12 L416.25,147.09 L416.50,147.08 L416.75,147.11 L417.00,147.12 L417.25,147.10 L417.50,147.08 L417.75,147.09 L418.00,147.12 L418.25,147.11 L418.50,147.08 L418.75,147.08 L419.00,147.11 L419.25,147.12 L419.50,147.09 L419.75,147.08 L420.00,147.10 L420.25,147.12 L420.50,147.10 L420.75,147.07 L421.00,147.08 L421.25,147.11 L421.50,147.10 L421.75,147.07 L422.00,147.06 L422.25,147.09 L422.50,147.11 L422.75,147.09 L423.00,147.08 L423.25,147.11 L423.50,147.14 L423.75,147.14 L424.00,147.12 L424.25,147.14 L424.50,147.18 L424.75,147.18 L425.00,147.15 L425.25,147.14 L425.50,147.16 L425.75,147.16 L426.00,147.12 L426.25,147.08 L426.50,147.08 L426.75,147.09 L427.00,147.05 L427.25,147.01 L427.50,147.01 L427.75,147.03 L428.00,147.02 L428.25,146.99 L428.50,146.99 L428.75,147.04 L429.00,147.06 L429.25,147.05 L429.50,147.06 L429.75,147.11 L430.00,147.15 L430.25,147.15 L430.50,147.15 L430.75,147.18 L431.00,147.22 L431.25,147.21 L431.50,147.18 L431.75,147.19 L432.00,147.21 L432.25,147.19 L432.50,147.14 L432.75,147.12 L433.00,147.14 L433.25,147.12 L433.50,147.08 L433.75,147.05 L434.00,147.06 L434.25,147.07 L434.50,147.03 L434.75,147.01 L435.00,147.03 L435.25,147.05 L435.50,147.03 L435.75,147.01 L436.00,147.03 L436.25,147.06 L436.50,147.06 L436.75,147.03 L437.00,147.05 L437.25,147.09 L437.50,147.10 L437.75,147.08 L438.00,147.09 L438.25,147.14 L438.50,147.16 L438.75,147.14 L439.00,147.15 L439.25,147.19 L439.50,147.22 L439.75,147.20 L440.00,147.19 L440.25,147.22 L440.50,147.23 L440.75,147.20 L441.00,147.16 L441.25,147.16 L441.50,147.16 L441.75,147.11 L442.00,147.06 L442.25,147.05 L442.50,147.05 L442.75,147.01 L443.00,146.97 L443.25,146.97 L443.50,147.00 L443.75,147.01 L444.00,147.00 L444.25,147.04 L444.50,147.10 L444.75,147.14 L445.00,147.16 L445.25,147.21 L445.50,147.28 L445.75,147.32 L446.00,147.32 L446.25,147.35 L446.50,147.39 L446.75,147.40 L447.00,147.36 L447.25,147.33 L447.50,147.34 L447.75,147.31 L448.00,147.25 L448.25,147.21 L448.50,147.20 L448.75,147.19 L449.00,147.14 L449.25,147.12 L449.50,147.16 L449.75,147.18 L450.00,147.18 L450.25,147.20 L450.50,147.27 L450.75,147.32 L451.00,147.34 L451.25,147.37 L451.50,147.44 L451.75,147.48 L452.00,147.47 L452.25,147.46 L452.50,147.48 L452.75,147.48 L453.00,147.42 L453.25,147.37 L453.50,147.36 L453.75,147.34 L454.00,147.27 L454.25,147.23 L454.50,147.24 L454.75,147.24 L455.00,147.22 L455.25,147.23 L455.50,147.29 L455.75,147.34 L456.00,147.36 L456.25,147.41 L456.50,147.49 L456.75,147.55 L457.00,147.56 L457.25,147.58 L457.50,147.63 L457.75,147.63 L458.00,147.58 L458.25,147.53 L458.50,147.51 L458.75,147.45 L459.00,147.34 L459.25,147.26 L459.50,147.21 L459.75,147.14 L460.00,147.05 L460.25,147.00 L460.50,147.01 L460.75,147.00 L461.00,146.98 L461.25,147.00 L461.50,147.07 L461.75,147.11 L462.00,147.14 L462.25,147.19 L462.50,147.27 L462.75,147.30 L463.00,147.29 L463.25,147.30 L463.50,147.31 L463.75,147.25 L464.00,147.16 L464.25,147.09 L464.50,147.02 L464.75,146.89 L465.00,146.76 L465.25,146.68 L465.50,146.61 L465.75,146.51 L466.00,146.43 L466.25,146.41 L466.50,146.41 L466.75,146.38 L467.00,146.39 L467.25,146.45 L467.50,146.52 L467.75,146.55 L468.00,146.62 L468.25,146.73 L468.50,146.82 L468.75,146.87 L469.00,146.94 L469.25,147.03 L469.50,147.07 L469.75,147.07 L470.00,147.10 L470.25,147.13 L470.50,147.12 L470.75,147.09 L471.00,147.09 L471.25,147.12 L471.50,147.12 L471.75,147.13 L472.00,147.20 L472.25,147.29 L472.50,147.36 L472.75,147.44 L473.00,147.57 L473.25,147.69 L473.50,147.77 L473.75,147.85 L474.00,147.95 L474.25,148.00 L474.50,147.99 L474.75,147.96 L475.00,147.90 L475.25,147.76 L475.50,147.55 L475.75,147.36 L476.00,147.18 L476.25,146.94 L476.50,146.71 L476.75,146.54 L477.00,146.40 L477.25,146.27 L477.50,146.19 L477.75,146.22 L478.00,146.30 L478.25,146.38 L478.50,146.55 L478.75,146.78 L479.00,147.01 L479.25,147.23 L479.50,147.50 L479.75,147.79 L480.00,148.03 L480.25,148.25 L480.50,148.49 L480.75,148.75 L481.00,148.97 L481.25,149.22 L481.50,149.52 L481.75,149.82 L482.00,150.09 L482.25,150.40 L482.50,150.75 L482.75,151.17 L483.00,151.67 L483.25,152.23 L483.50,152.70 L483.75,152.91 L484.00,152.86 L484.25,152.71 L484.50,152.52" stroke="#b98a2a"/>
</g>
<g fill="none" stroke="#3a3a3a" stroke-width="1">
<path d="M68.5,41.38H76.8M539.5,41.38H531.2M68.5,74.75H76.8M539.5,74.75H531.2M68.5,108.12H76.8M539.5,108.12H531.2M68.5,141.50H76.8M539.5,141.50H531.2M68.5,174.88H76.8M539.5,174.88H531.2M68.5,208.25H76.8M539.5,208.25H531.2M68.5,241.62H76.8M539.5,241.62H531.2M127.11,275.0V266.2M127.11,8.0V16.3M186.03,275.0V266.2M186.03,8.0V16.3M244.94,275.0V266.2M244.94,8.0V16.3M303.85,275.0V266.2M303.85,8.0V16.3M362.76,275.0V266.2M362.76,8.0V16.3M421.67,275.0V266.2M421.67,8.0V16.3M480.59,275.0V266.2M480.59,8.0V16.3"/>
<rect x="68.5" y="8.0" width="471.0" height="267.0"/>
</g>
<g fill="none" stroke-width="1" opacity="0.7">
<path d="M210,25.00H250" stroke="#26a680"/><path d="M210,41.60H250" stroke="#7066c4"/><path d="M210,58.70H250" stroke="#5aa81c"/><path d="M210,75.50H250" stroke="#b98a2a"/><path d="M210,92.40H250" stroke="#5a5a5a"/>
</g>
<text x="60.3" y="11.55" text-anchor="end">2</text><text x="60.3" y="44.92" text-anchor="end">1.5</text><text x="60.3" y="78.30" text-anchor="end">1</text><text x="60.3" y="111.67" text-anchor="end">0.5</text><text x="60.3" y="145.05" text-anchor="end">0</text><text x="60.3" y="178.43" text-anchor="end">-0.5</text><text x="60.3" y="211.80" text-anchor="end">-1</text><text x="60.3" y="245.18" text-anchor="end">-1.5</text><text x="60.3" y="278.55" text-anchor="end">-2</text><text x="68.20" y="295.4" text-anchor="middle">0</text><text x="127.11" y="295.4" text-anchor="middle">0.1</text><text x="186.03" y="295.4" text-anchor="middle">0.2</text><text x="244.94" y="295.4" text-anchor="middle">0.3</text><text x="303.85" y="295.4" text-anchor="middle">0.4</text><text x="362.76" y="295.4" text-anchor="middle">0.5</text><text x="421.67" y="295.4" text-anchor="middle">0.6</text><text x="480.59" y="295.4" text-anchor="middle">0.7</text><text x="539.50" y="295.4" text-anchor="middle">0.8</text>
<text x="202" y="28.90" text-anchor="end">MotionCor2</text><text x="202" y="45.50" text-anchor="end">Relion MotionCor</text><text x="202" y="62.60" text-anchor="end">Warp</text><text x="202" y="79.40" text-anchor="end">CryoSPARC</text><text x="202" y="96.30" text-anchor="end">FlexAlign</text>
<text x="303.7" y="320.6" text-anchor="middle">Spatial Frequency (1/A)</text>
<text transform="translate(15.8,141.4) rotate(-90)" text-anchor="middle">Log10 (PSD)</text>
</svg>
</body></html>
